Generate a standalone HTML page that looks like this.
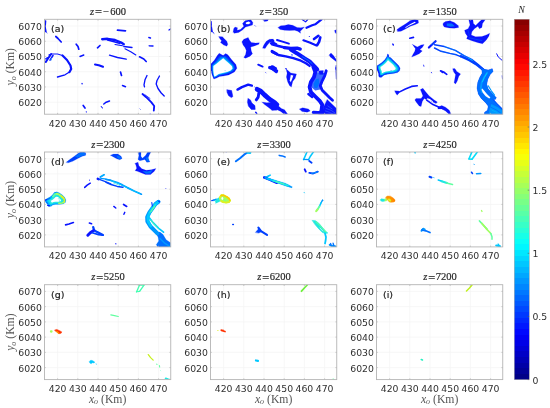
<!DOCTYPE html>
<html><head><meta charset="utf-8"><title>figure</title>
<style>
html,body{margin:0;padding:0;background:#fff;}
body{width:550px;height:408px;overflow:hidden;}
svg{display:block;}
.tk{font-family:"DejaVu Sans","Liberation Sans",sans-serif;font-size:9.3px;fill:#303030;}
.lb{font-family:"DejaVu Sans","Liberation Sans",sans-serif;font-size:9.5px;fill:#262626;stroke:#262626;stroke-width:0.2px;}
.tt{font-family:"Liberation Serif",serif;font-size:10.5px;fill:#2a2a2a;stroke:#2a2a2a;stroke-width:0.2px;}
.ax{font-family:"Liberation Serif",serif;font-size:11.7px;fill:#555;}
</style></head><body>
<svg width="550" height="408" viewBox="0 0 550 408">
<defs>
</defs>
<rect width="550" height="408" fill="#fff"/>
<clipPath id="cp0"><rect x="44.5" y="19.3" width="126.25" height="94.9"/></clipPath>
<rect x="44.5" y="19.3" width="126.25" height="94.9" fill="#fff"/>
<line x1="57.60" y1="19.3" x2="57.60" y2="114.2" stroke="#f3f3f3" stroke-width="0.7"/>
<line x1="44.5" y1="26.00" x2="170.75" y2="26.00" stroke="#f3f3f3" stroke-width="0.7"/>
<line x1="77.80" y1="19.3" x2="77.80" y2="114.2" stroke="#f3f3f3" stroke-width="0.7"/>
<line x1="44.5" y1="41.24" x2="170.75" y2="41.24" stroke="#f3f3f3" stroke-width="0.7"/>
<line x1="98.00" y1="19.3" x2="98.00" y2="114.2" stroke="#f3f3f3" stroke-width="0.7"/>
<line x1="44.5" y1="56.48" x2="170.75" y2="56.48" stroke="#f3f3f3" stroke-width="0.7"/>
<line x1="118.20" y1="19.3" x2="118.20" y2="114.2" stroke="#f3f3f3" stroke-width="0.7"/>
<line x1="44.5" y1="71.72" x2="170.75" y2="71.72" stroke="#f3f3f3" stroke-width="0.7"/>
<line x1="138.40" y1="19.3" x2="138.40" y2="114.2" stroke="#f3f3f3" stroke-width="0.7"/>
<line x1="44.5" y1="86.96" x2="170.75" y2="86.96" stroke="#f3f3f3" stroke-width="0.7"/>
<line x1="158.60" y1="19.3" x2="158.60" y2="114.2" stroke="#f3f3f3" stroke-width="0.7"/>
<line x1="44.5" y1="102.20" x2="170.75" y2="102.20" stroke="#f3f3f3" stroke-width="0.7"/>
<g clip-path="url(#cp0)" stroke-linecap="round" stroke-linejoin="round" fill="none">
<polyline points="45.5,21.0 45.0,27.2 45.8,31.5" stroke="#0a14ff" stroke-width="1.69"/>
<polyline points="45.8,31.5 47.0,33.0" stroke="#0a14ff" stroke-width="0.68"/>
<polyline points="55.8,36.5 58.0,38.5 61.2,42.0" stroke="#0a14ff" stroke-width="1.69"/>
<polyline points="76.2,44.2 78.0,46.5 78.8,49.2" stroke="#0a14ff" stroke-width="1.69"/>
<polyline points="80.0,56.5 83.8,55.0" stroke="#0a14ff" stroke-width="1.35"/>
<polyline points="48.8,55.0 51.2,54.0 57.5,54.0 62.5,55.5" stroke="#0a14ff" stroke-width="1.01"/>
<polyline points="62.5,55.5 67.0,60.0 70.5,65.5 71.2,69.0 69.5,72.0" stroke="#0a14ff" stroke-width="2.19"/>
<polyline points="69.5,72.0 65.0,74.8 57.5,77.0" stroke="#0a14ff" stroke-width="1.35"/>
<polyline points="45.8,62.0 48.0,58.5 51.2,54.0" stroke="#0a14ff" stroke-width="2.03"/>
<polyline points="50.0,60.2 53.0,55.5" stroke="#0a14ff" stroke-width="1.52"/>
<polyline points="45.5,59.0 47.5,57.5" stroke="#0a14ff" stroke-width="1.01"/>
<polyline points="51.0,60.0 51.5,58.5" stroke="#30a0ff" stroke-width="1.01"/>
<polyline points="97.5,47.8 100.0,45.5" stroke="#0a14ff" stroke-width="1.69"/>
<polyline points="102.2,39.2 107.5,38.8 115.0,40.0 121.2,42.5 123.8,44.2" stroke="#0a14ff" stroke-width="2.36"/>
<polyline points="107.5,40.0 115.0,42.0 120.0,43.5" stroke="#0a14ff" stroke-width="1.35"/>
<polyline points="115.0,44.5 122.5,45.8" stroke="#0a14ff" stroke-width="1.01"/>
<polyline points="123.8,46.5 132.0,47.5" stroke="#0a14ff" stroke-width="1.35"/>
<polyline points="117.5,30.2 125.5,30.8" stroke="#0a14ff" stroke-width="1.69"/>
<polyline points="109.5,55.2 117.5,57.5 126.2,59.2" stroke="#0a14ff" stroke-width="1.35"/>
<polyline points="125.0,48.8 131.2,52.0 135.8,55.0" stroke="#0a14ff" stroke-width="1.18"/>
<polyline points="139.5,56.8 143.8,59.0 146.2,61.5" stroke="#0a14ff" stroke-width="1.69"/>
<polyline points="95.0,64.5 98.8,65.2 103.0,66.8" stroke="#0a14ff" stroke-width="2.03"/>
<polyline points="120.5,72.0 121.5,75.5" stroke="#0a14ff" stroke-width="1.69"/>
<polyline points="122.5,85.5 125.5,86.8" stroke="#0a14ff" stroke-width="1.52"/>
<polyline points="82.0,83.5 82.2,83.8" stroke="#0a14ff" stroke-width="1.35"/>
<polyline points="148.8,37.5 150.5,38.0" stroke="#0a14ff" stroke-width="1.35"/>
<polyline points="149.2,45.8 153.0,46.0" stroke="#0a14ff" stroke-width="1.35"/>
<polyline points="169.0,30.0 170.5,29.0" stroke="#0a14ff" stroke-width="1.35"/>
<polyline points="147.0,75.5 145.0,79.8 144.0,84.8 144.5,86.8" stroke="#0a14ff" stroke-width="1.35"/>
<polyline points="159.5,76.0 157.0,80.5 156.2,84.0 158.0,88.5 161.2,93.0 164.2,96.0" stroke="#0a14ff" stroke-width="1.35"/>
<polyline points="142.5,94.0 146.2,97.2 151.2,102.2 154.2,106.0 153.8,110.5" stroke="#0a14ff" stroke-width="1.86"/>
<polyline points="145.0,94.8 150.0,98.5" stroke="#0a14ff" stroke-width="0.84"/>
<polyline points="83.2,105.5 85.0,108.0" stroke="#0a14ff" stroke-width="1.69"/>
<polyline points="86.2,111.8 86.5,112.0" stroke="#0a14ff" stroke-width="1.01"/>
<polyline points="101.2,106.5 102.5,108.0" stroke="#0a14ff" stroke-width="1.01"/>
<polyline points="103.8,104.0 106.2,102.2 109.5,101.0" stroke="#0a14ff" stroke-width="1.52"/>
<polyline points="140.0,109.0 140.2,109.2" stroke="#0a14ff" stroke-width="0.84"/>
<polyline points="150.0,114.2 150.5,114.2" stroke="#0a14ff" stroke-width="0.84"/>
</g>
<rect x="44.5" y="19.3" width="126.25" height="94.9" fill="none" stroke="#b4b4b4" stroke-width="0.9"/>
<line x1="57.60" y1="114.2" x2="57.60" y2="112.9" stroke="#b4b4b4" stroke-width="0.7"/>
<line x1="57.60" y1="19.3" x2="57.60" y2="20.6" stroke="#b4b4b4" stroke-width="0.7"/>
<line x1="44.5" y1="26.00" x2="45.8" y2="26.00" stroke="#b4b4b4" stroke-width="0.7"/>
<line x1="170.75" y1="26.00" x2="169.45" y2="26.00" stroke="#b4b4b4" stroke-width="0.7"/>
<text x="57.60" y="126.50" class="tk" text-anchor="middle">420</text>
<text x="41.90" y="30.00" class="tk" text-anchor="end">6070</text>
<line x1="77.80" y1="114.2" x2="77.80" y2="112.9" stroke="#b4b4b4" stroke-width="0.7"/>
<line x1="77.80" y1="19.3" x2="77.80" y2="20.6" stroke="#b4b4b4" stroke-width="0.7"/>
<line x1="44.5" y1="41.24" x2="45.8" y2="41.24" stroke="#b4b4b4" stroke-width="0.7"/>
<line x1="170.75" y1="41.24" x2="169.45" y2="41.24" stroke="#b4b4b4" stroke-width="0.7"/>
<text x="77.80" y="126.50" class="tk" text-anchor="middle">430</text>
<text x="41.90" y="45.24" class="tk" text-anchor="end">6060</text>
<line x1="98.00" y1="114.2" x2="98.00" y2="112.9" stroke="#b4b4b4" stroke-width="0.7"/>
<line x1="98.00" y1="19.3" x2="98.00" y2="20.6" stroke="#b4b4b4" stroke-width="0.7"/>
<line x1="44.5" y1="56.48" x2="45.8" y2="56.48" stroke="#b4b4b4" stroke-width="0.7"/>
<line x1="170.75" y1="56.48" x2="169.45" y2="56.48" stroke="#b4b4b4" stroke-width="0.7"/>
<text x="98.00" y="126.50" class="tk" text-anchor="middle">440</text>
<text x="41.90" y="60.48" class="tk" text-anchor="end">6050</text>
<line x1="118.20" y1="114.2" x2="118.20" y2="112.9" stroke="#b4b4b4" stroke-width="0.7"/>
<line x1="118.20" y1="19.3" x2="118.20" y2="20.6" stroke="#b4b4b4" stroke-width="0.7"/>
<line x1="44.5" y1="71.72" x2="45.8" y2="71.72" stroke="#b4b4b4" stroke-width="0.7"/>
<line x1="170.75" y1="71.72" x2="169.45" y2="71.72" stroke="#b4b4b4" stroke-width="0.7"/>
<text x="118.20" y="126.50" class="tk" text-anchor="middle">450</text>
<text x="41.90" y="75.72" class="tk" text-anchor="end">6040</text>
<line x1="138.40" y1="114.2" x2="138.40" y2="112.9" stroke="#b4b4b4" stroke-width="0.7"/>
<line x1="138.40" y1="19.3" x2="138.40" y2="20.6" stroke="#b4b4b4" stroke-width="0.7"/>
<line x1="44.5" y1="86.96" x2="45.8" y2="86.96" stroke="#b4b4b4" stroke-width="0.7"/>
<line x1="170.75" y1="86.96" x2="169.45" y2="86.96" stroke="#b4b4b4" stroke-width="0.7"/>
<text x="138.40" y="126.50" class="tk" text-anchor="middle">460</text>
<text x="41.90" y="90.96" class="tk" text-anchor="end">6030</text>
<line x1="158.60" y1="114.2" x2="158.60" y2="112.9" stroke="#b4b4b4" stroke-width="0.7"/>
<line x1="158.60" y1="19.3" x2="158.60" y2="20.6" stroke="#b4b4b4" stroke-width="0.7"/>
<line x1="44.5" y1="102.20" x2="45.8" y2="102.20" stroke="#b4b4b4" stroke-width="0.7"/>
<line x1="170.75" y1="102.20" x2="169.45" y2="102.20" stroke="#b4b4b4" stroke-width="0.7"/>
<text x="158.60" y="126.50" class="tk" text-anchor="middle">470</text>
<text x="41.90" y="106.20" class="tk" text-anchor="end">6020</text>
<text x="51.0" y="32.10" class="lb">(a)</text>
<text x="108.03" y="15.00" class="tt" text-anchor="middle"><tspan font-style="italic">z</tspan><tspan dx="0.9" dy="1.1" font-size="12.4">=</tspan><tspan dx="1.3" dy="-1.1">−</tspan><tspan dx="1.0">600</tspan></text>
<text transform="translate(14.2,66.75) rotate(-90)" class="ax" text-anchor="middle"><tspan font-style="italic">y</tspan><tspan font-style="italic" font-size="8" dy="1.8">o</tspan><tspan dy="-1.8"> (Km)</tspan></text>
<clipPath id="cp1"><rect x="210.5" y="19.3" width="126.25" height="94.9"/></clipPath>
<rect x="210.5" y="19.3" width="126.25" height="94.9" fill="#fff"/>
<line x1="223.60" y1="19.3" x2="223.60" y2="114.2" stroke="#f3f3f3" stroke-width="0.7"/>
<line x1="210.5" y1="26.00" x2="336.75" y2="26.00" stroke="#f3f3f3" stroke-width="0.7"/>
<line x1="243.80" y1="19.3" x2="243.80" y2="114.2" stroke="#f3f3f3" stroke-width="0.7"/>
<line x1="210.5" y1="41.24" x2="336.75" y2="41.24" stroke="#f3f3f3" stroke-width="0.7"/>
<line x1="264.00" y1="19.3" x2="264.00" y2="114.2" stroke="#f3f3f3" stroke-width="0.7"/>
<line x1="210.5" y1="56.48" x2="336.75" y2="56.48" stroke="#f3f3f3" stroke-width="0.7"/>
<line x1="284.20" y1="19.3" x2="284.20" y2="114.2" stroke="#f3f3f3" stroke-width="0.7"/>
<line x1="210.5" y1="71.72" x2="336.75" y2="71.72" stroke="#f3f3f3" stroke-width="0.7"/>
<line x1="304.40" y1="19.3" x2="304.40" y2="114.2" stroke="#f3f3f3" stroke-width="0.7"/>
<line x1="210.5" y1="86.96" x2="336.75" y2="86.96" stroke="#f3f3f3" stroke-width="0.7"/>
<line x1="324.60" y1="19.3" x2="324.60" y2="114.2" stroke="#f3f3f3" stroke-width="0.7"/>
<line x1="210.5" y1="102.20" x2="336.75" y2="102.20" stroke="#f3f3f3" stroke-width="0.7"/>
<g clip-path="url(#cp1)" stroke-linecap="round" stroke-linejoin="round" fill="none">
<polygon points="210.4,64.6 214.3,60.2 217.3,55.6 219.2,53.2 223.2,55.4 225.6,53.6 227.8,54.8 231.7,59.7 235.9,64.6 236.9,68.3 234.4,72.0 228.7,74.9 223.2,76.0 219.5,76.6 216.6,78.1 213.8,79.1 212.1,74.9 210.7,69.5" fill="#0a14ff" stroke="#0a14ff" stroke-width="0.15"/>
<polygon points="211.4,65.1 215.2,61.3 218.1,57.5 220.1,55.4 223.2,56.4 225.1,55.5 226.9,56.7 230.8,61.0 234.5,65.2 235.3,68.4 233.1,71.4 228.2,73.8 223.0,75.0 219.3,75.7 216.3,77.3 214.0,78.2 212.7,74.7 211.6,69.9" fill="#0040ff" stroke="#0040ff" stroke-width="0.06"/>
<polygon points="212.1,65.5 215.8,62.1 218.7,58.7 220.7,56.8 223.2,57.0 224.8,56.8 226.4,57.9 230.2,61.9 233.6,65.5 234.3,68.4 232.3,71.1 227.8,73.1 222.9,74.3 219.1,75.1 216.1,76.8 214.2,77.6 213.1,74.6 212.2,70.1" fill="#0070ff" stroke="#0070ff" stroke-width="0.06"/>
<polygon points="212.7,65.8 216.2,62.7 219.2,59.8 221.1,58.1 223.2,57.6 224.5,57.8 225.9,59.0 229.7,62.6 232.8,65.8 233.4,68.5 231.5,70.7 227.4,72.5 222.8,73.8 218.9,74.7 216.0,76.4 214.3,77.1 213.5,74.5 212.7,70.3" fill="#0098ff" stroke="#0098ff" stroke-width="0.06"/>
<polygon points="213.1,66.0 216.6,63.2 219.5,60.5 221.5,58.9 223.2,58.0 224.3,58.6 225.6,59.8 229.3,63.1 232.3,66.1 232.8,68.5 231.0,70.5 227.2,72.1 222.7,73.4 218.8,74.3 215.9,76.1 214.4,76.8 213.7,74.5 213.1,70.4" fill="#00c8ff" stroke="#00c8ff" stroke-width="0.06"/>
<polygon points="213.4,66.1 216.8,63.4 219.7,61.0 221.7,59.4 223.2,58.2 224.1,59.0 225.4,60.2 229.1,63.4 232.0,66.2 232.5,68.5 230.7,70.4 227.1,71.9 222.7,73.1 218.7,74.1 215.8,75.9 214.4,76.6 213.8,74.4 213.3,70.5" fill="#ffffff" stroke="#ffffff" stroke-width="0.06"/>
<polyline points="225.3,70.7 225.5,70.9" stroke="#0a14ff" stroke-width="0.49"/>
<polyline points="210.8,21.8 211.1,26.8 211.8,31.2" stroke="#0a14ff" stroke-width="1.91"/>
<polyline points="211.8,31.2 214.0,33.3" stroke="#0a14ff" stroke-width="0.95"/>
<polygon points="233.1,32.1 233.7,28.7 235.0,27.0 237.5,27.8 237.1,30.3 240.4,29.5 243.8,26.2 242.5,23.6 245.0,20.8 250.7,19.5 252.9,22.4 252.5,24.9 250.0,25.8 245.6,27.0 242.5,29.9 238.7,32.4 234.3,33.3" fill="#0a14ff" stroke="#0a14ff" stroke-width="0.19"/>
<polygon points="245.9,22.5 248.8,21.5 250.7,23.0 248.4,24.3 245.9,24.0" fill="#ffffff" stroke="#ffffff" stroke-width="0.06"/>
<polyline points="255.1,25.8 255.3,26.0" stroke="#0a14ff" stroke-width="0.95"/>
<polygon points="262.6,19.3 268.5,19.0 267.7,21.0 264.5,21.5" fill="#0a14ff" stroke="#0a14ff" stroke-width="0.19"/>
<polygon points="218.7,36.6 222.4,36.8 224.3,38.7 226.8,41.2 227.8,44.3 226.8,46.2 223.7,45.0 220.5,42.5 221.6,40.8 219.9,38.7" fill="#0a14ff" stroke="#0a14ff" stroke-width="0.19"/>
<polygon points="241.9,41.8 243.8,39.3 248.2,37.4 249.4,40.0 251.3,42.5 255.7,43.1 259.4,42.8 258.8,44.3 254.4,45.9 250.7,47.1 251.3,50.9 252.5,53.8 250.0,56.3 245.6,58.2 243.8,57.5 245.6,54.4 246.3,50.6 245.0,47.5 243.1,45.0" fill="#0a14ff" stroke="#0a14ff" stroke-width="0.19"/>
<polygon points="262.6,48.1 263.8,45.0 266.3,41.2 269.5,39.3 273.5,39.1 273.0,41.2 269.5,42.5 267.0,45.6 265.1,48.4" fill="#0a14ff" stroke="#0a14ff" stroke-width="0.19"/>
<polyline points="270.7,43.3 273.5,42.7 276.4,44.0" stroke="#0a14ff" stroke-width="1.91"/>
<polyline points="272.0,51.2 276.8,54.0" stroke="#0a14ff" stroke-width="2.86"/>
<polyline points="258.2,64.7 262.6,66.6" stroke="#0a14ff" stroke-width="1.91"/>
<polygon points="269.2,66.3 273.2,65.4 276.8,68.2 276.8,69.2 270.7,68.2" fill="#0a14ff" stroke="#0a14ff" stroke-width="0.19"/>
<polyline points="269.5,67.6 276.8,70.8" stroke="#0a14ff" stroke-width="2.86"/>
<polyline points="265.7,72.6 266.0,72.9" stroke="#0a14ff" stroke-width="0.72"/>
<polyline points="237.5,89.6 241.9,87.1 248.2,84.6 251.9,85.6" stroke="#0a14ff" stroke-width="2.38"/>
<polyline points="254.9,87.1 255.2,87.3" stroke="#0a14ff" stroke-width="0.95"/>
<polygon points="227.1,89.8 231.6,90.6 232.8,96.6 231.3,97.6 228.5,95.6 227.1,92.3" fill="#0a14ff" stroke="#0a14ff" stroke-width="0.50"/>
<polyline points="257.2,89.3 260.7,91.1 264.5,94.9 269.5,99.2 274.5,102.4 276.8,104.6" stroke="#0a14ff" stroke-width="4.77"/>
<polygon points="262.0,102.1 267.0,102.8 273.2,102.1 276.8,104.6 276.8,110.3 272.0,110.3 268.2,107.2 264.5,104.6" fill="#0a14ff" stroke="#0a14ff" stroke-width="0.19"/>
<polyline points="258.8,93.3 258.2,97.1 256.3,99.9" stroke="#0a14ff" stroke-width="2.86"/>
<polygon points="248.2,98.6 250.4,99.9 251.9,103.1 254.9,105.6 255.2,109.4 251.3,109.4 248.4,106.1 247.5,102.1" fill="#0a14ff" stroke="#0a14ff" stroke-width="0.50"/>
<polyline points="255.7,112.2 256.7,113.4" stroke="#0a14ff" stroke-width="1.43"/>
<polygon points="278.0,27.4 280.8,25.8 284.5,25.5 288.3,24.5 292.7,25.3 297.1,27.4 300.9,27.8 304.4,27.0 302.1,29.5 300.2,31.2 300.6,33.3 297.7,31.2 294.6,30.3 289.6,30.5 284.5,30.3 280.2,29.5" fill="#0a14ff" stroke="#0a14ff" stroke-width="0.19"/>
<polyline points="302.1,19.5 305.6,21.8 307.8,19.5" stroke="#0a14ff" stroke-width="1.19"/>
<polyline points="306.5,27.8 312.2,25.3 315.3,24.3 321.6,19.3" stroke="#0a14ff" stroke-width="2.15"/>
<polygon points="334.5,30.5 336.6,29.5 336.6,33.7 335.4,33.1" fill="#0a14ff" stroke="#0a14ff" stroke-width="0.19"/>
<polyline points="303.4,40.3 309.6,42.5 316.5,45.4" stroke="#0a14ff" stroke-width="2.15"/>
<polyline points="317.2,45.0 319.1,41.8 320.3,37.4" stroke="#0a14ff" stroke-width="2.62"/>
<polyline points="314.0,39.0 318.4,35.8" stroke="#0a14ff" stroke-width="2.62"/>
<polyline points="309.3,36.4 309.4,36.6" stroke="#0a14ff" stroke-width="0.95"/>
<polyline points="277.0,40.0 283.3,41.8 288.9,43.7" stroke="#0a14ff" stroke-width="1.91"/>
<polyline points="272.0,40.6 273.3,41.2" stroke="#0a14ff" stroke-width="2.38"/>
<polyline points="272.0,44.3 278.3,45.9 284.5,47.4" stroke="#0a14ff" stroke-width="2.62"/>
<polyline points="284.5,47.6 290.8,48.4 297.1,48.1 300.2,49.1" stroke="#0a14ff" stroke-width="3.34"/>
<polyline points="290.8,49.6 297.1,53.4 304.6,58.4 309.6,61.5 314.7,66.6 317.2,69.4" stroke="#0a14ff" stroke-width="4.05"/>
<polyline points="302.1,56.6 308.4,60.4 312.2,63.8" stroke="#0070ff" stroke-width="0.95"/>
<polyline points="272.0,51.9 278.3,55.0 285.8,56.3 293.3,58.2 300.9,60.7 305.9,63.2 309.6,65.9" stroke="#0a14ff" stroke-width="2.38"/>
<polyline points="291.8,54.8 292.1,55.0" stroke="#0a14ff" stroke-width="1.19"/>
<polyline points="272.0,66.3 275.8,68.2" stroke="#0a14ff" stroke-width="1.91"/>
<polyline points="285.8,68.6 286.3,68.9" stroke="#0a14ff" stroke-width="1.19"/>
<polygon points="329.1,55.0 331.0,53.1 333.5,55.6 336.6,60.0 336.6,61.9 333.5,59.4 330.3,56.9" fill="#0a14ff" stroke="#0a14ff" stroke-width="0.19"/>
<polyline points="336.2,65.7 336.0,69.1" stroke="#0a14ff" stroke-width="1.19"/>
<polyline points="272.0,68.3 276.4,71.8" stroke="#0a14ff" stroke-width="2.86"/>
<polygon points="286.1,68.9 288.3,70.8 290.8,73.0 296.5,73.9 295.2,78.3 292.7,81.4 291.4,87.1 289.6,85.8 287.7,82.1 286.4,77.0 287.1,73.3" fill="#0a14ff" stroke="#0a14ff" stroke-width="0.19"/>
<polygon points="290.8,75.0 293.3,75.4 292.1,78.9 290.7,82.3 289.8,80.2" fill="#ffffff" stroke="#ffffff" stroke-width="0.06"/>
<polygon points="315.3,72.0 325.3,73.3 322.2,80.8 320.3,85.8 321.2,89.3 315.3,90.6 311.1,87.1 311.5,82.1 314.0,77.0" fill="#3a6cff" stroke="#3a6cff" stroke-width="0.06"/>
<polygon points="315.7,79.5 318.7,78.5 319.2,83.3 317.2,88.3 314.4,87.8 313.7,83.9" fill="#0070ff" stroke="#0070ff" stroke-width="0.06"/>
<polyline points="313.4,67.0 315.3,72.0 314.0,77.0 310.9,82.1 309.6,87.1 310.9,92.1 315.3,96.5 319.7,100.9 322.2,104.6 321.6,109.7 320.3,114.1" stroke="#0a14ff" stroke-width="3.81"/>
<polyline points="326.2,70.8 324.7,75.8 322.2,80.8 320.3,85.8 322.2,90.2 326.0,94.0 329.7,97.7 332.5,100.2" stroke="#0a14ff" stroke-width="2.86"/>
<polygon points="318.4,70.8 323.4,70.5 323.2,74.5 319.7,74.5" fill="#0a14ff" stroke="#0a14ff" stroke-width="0.19"/>
<polygon points="327.2,99.4 336.6,108.4 336.6,114.4 322.2,114.4 323.4,107.2" fill="#0a14ff" stroke="#0a14ff" stroke-width="0.19"/>
<polyline points="326.0,108.4 331.0,110.3 334.7,112.8" stroke="#5080ff" stroke-width="0.48"/>
<polyline points="325.3,110.9 329.7,112.4 333.5,114.4" stroke="#5080ff" stroke-width="0.48"/>
<polyline points="327.8,105.9 332.2,109.0" stroke="#5080ff" stroke-width="0.48"/>
<polyline points="336.2,67.6 336.6,78.9" stroke="#0a14ff" stroke-width="1.43"/>
<polygon points="272.0,100.2 274.5,101.5 277.6,105.3 281.4,108.4 284.5,109.7 287.7,114.1 284.5,114.4 280.8,111.5 277.0,109.7 272.0,110.3" fill="#0a14ff" stroke="#0a14ff" stroke-width="0.19"/>
<polygon points="299.4,109.0 302.7,107.8 308.4,109.0 310.3,110.9 307.1,112.2 302.1,111.5" fill="#0a14ff" stroke="#0a14ff" stroke-width="0.19"/>
<polyline points="313.4,112.4 322.2,112.9" stroke="#0a14ff" stroke-width="3.34"/>
<polyline points="308.4,94.0 312.2,97.1" stroke="#0a14ff" stroke-width="2.38"/>
</g>
<rect x="210.5" y="19.3" width="126.25" height="94.9" fill="none" stroke="#b4b4b4" stroke-width="0.9"/>
<line x1="223.60" y1="114.2" x2="223.60" y2="112.9" stroke="#b4b4b4" stroke-width="0.7"/>
<line x1="223.60" y1="19.3" x2="223.60" y2="20.6" stroke="#b4b4b4" stroke-width="0.7"/>
<line x1="210.5" y1="26.00" x2="211.8" y2="26.00" stroke="#b4b4b4" stroke-width="0.7"/>
<line x1="336.75" y1="26.00" x2="335.45" y2="26.00" stroke="#b4b4b4" stroke-width="0.7"/>
<text x="223.60" y="126.50" class="tk" text-anchor="middle">420</text>
<text x="207.90" y="30.00" class="tk" text-anchor="end">6070</text>
<line x1="243.80" y1="114.2" x2="243.80" y2="112.9" stroke="#b4b4b4" stroke-width="0.7"/>
<line x1="243.80" y1="19.3" x2="243.80" y2="20.6" stroke="#b4b4b4" stroke-width="0.7"/>
<line x1="210.5" y1="41.24" x2="211.8" y2="41.24" stroke="#b4b4b4" stroke-width="0.7"/>
<line x1="336.75" y1="41.24" x2="335.45" y2="41.24" stroke="#b4b4b4" stroke-width="0.7"/>
<text x="243.80" y="126.50" class="tk" text-anchor="middle">430</text>
<text x="207.90" y="45.24" class="tk" text-anchor="end">6060</text>
<line x1="264.00" y1="114.2" x2="264.00" y2="112.9" stroke="#b4b4b4" stroke-width="0.7"/>
<line x1="264.00" y1="19.3" x2="264.00" y2="20.6" stroke="#b4b4b4" stroke-width="0.7"/>
<line x1="210.5" y1="56.48" x2="211.8" y2="56.48" stroke="#b4b4b4" stroke-width="0.7"/>
<line x1="336.75" y1="56.48" x2="335.45" y2="56.48" stroke="#b4b4b4" stroke-width="0.7"/>
<text x="264.00" y="126.50" class="tk" text-anchor="middle">440</text>
<text x="207.90" y="60.48" class="tk" text-anchor="end">6050</text>
<line x1="284.20" y1="114.2" x2="284.20" y2="112.9" stroke="#b4b4b4" stroke-width="0.7"/>
<line x1="284.20" y1="19.3" x2="284.20" y2="20.6" stroke="#b4b4b4" stroke-width="0.7"/>
<line x1="210.5" y1="71.72" x2="211.8" y2="71.72" stroke="#b4b4b4" stroke-width="0.7"/>
<line x1="336.75" y1="71.72" x2="335.45" y2="71.72" stroke="#b4b4b4" stroke-width="0.7"/>
<text x="284.20" y="126.50" class="tk" text-anchor="middle">450</text>
<text x="207.90" y="75.72" class="tk" text-anchor="end">6040</text>
<line x1="304.40" y1="114.2" x2="304.40" y2="112.9" stroke="#b4b4b4" stroke-width="0.7"/>
<line x1="304.40" y1="19.3" x2="304.40" y2="20.6" stroke="#b4b4b4" stroke-width="0.7"/>
<line x1="210.5" y1="86.96" x2="211.8" y2="86.96" stroke="#b4b4b4" stroke-width="0.7"/>
<line x1="336.75" y1="86.96" x2="335.45" y2="86.96" stroke="#b4b4b4" stroke-width="0.7"/>
<text x="304.40" y="126.50" class="tk" text-anchor="middle">460</text>
<text x="207.90" y="90.96" class="tk" text-anchor="end">6030</text>
<line x1="324.60" y1="114.2" x2="324.60" y2="112.9" stroke="#b4b4b4" stroke-width="0.7"/>
<line x1="324.60" y1="19.3" x2="324.60" y2="20.6" stroke="#b4b4b4" stroke-width="0.7"/>
<line x1="210.5" y1="102.20" x2="211.8" y2="102.20" stroke="#b4b4b4" stroke-width="0.7"/>
<line x1="336.75" y1="102.20" x2="335.45" y2="102.20" stroke="#b4b4b4" stroke-width="0.7"/>
<text x="324.60" y="126.50" class="tk" text-anchor="middle">470</text>
<text x="207.90" y="106.20" class="tk" text-anchor="end">6020</text>
<text x="217.0" y="32.10" class="lb">(b)</text>
<text x="274.02" y="15.00" class="tt" text-anchor="middle"><tspan font-style="italic">z</tspan><tspan dx="0.9" dy="1.1" font-size="12.4">=</tspan><tspan dx="0.6" dy="-1.1">350</tspan></text>
<clipPath id="cp2"><rect x="376.5" y="19.3" width="126.25" height="94.9"/></clipPath>
<rect x="376.5" y="19.3" width="126.25" height="94.9" fill="#fff"/>
<line x1="389.60" y1="19.3" x2="389.60" y2="114.2" stroke="#f3f3f3" stroke-width="0.7"/>
<line x1="376.5" y1="26.00" x2="502.75" y2="26.00" stroke="#f3f3f3" stroke-width="0.7"/>
<line x1="409.80" y1="19.3" x2="409.80" y2="114.2" stroke="#f3f3f3" stroke-width="0.7"/>
<line x1="376.5" y1="41.24" x2="502.75" y2="41.24" stroke="#f3f3f3" stroke-width="0.7"/>
<line x1="430.00" y1="19.3" x2="430.00" y2="114.2" stroke="#f3f3f3" stroke-width="0.7"/>
<line x1="376.5" y1="56.48" x2="502.75" y2="56.48" stroke="#f3f3f3" stroke-width="0.7"/>
<line x1="450.20" y1="19.3" x2="450.20" y2="114.2" stroke="#f3f3f3" stroke-width="0.7"/>
<line x1="376.5" y1="71.72" x2="502.75" y2="71.72" stroke="#f3f3f3" stroke-width="0.7"/>
<line x1="470.40" y1="19.3" x2="470.40" y2="114.2" stroke="#f3f3f3" stroke-width="0.7"/>
<line x1="376.5" y1="86.96" x2="502.75" y2="86.96" stroke="#f3f3f3" stroke-width="0.7"/>
<line x1="490.60" y1="19.3" x2="490.60" y2="114.2" stroke="#f3f3f3" stroke-width="0.7"/>
<line x1="376.5" y1="102.20" x2="502.75" y2="102.20" stroke="#f3f3f3" stroke-width="0.7"/>
<g clip-path="url(#cp2)" stroke-linecap="round" stroke-linejoin="round" fill="none">
<polygon points="376.4,66.1 378.9,64.6 381.8,62.6 384.7,59.7 386.7,56.8 387.7,54.3 388.7,54.8 388.9,57.0 390.6,57.5 393.1,59.9 396.0,62.8 398.7,65.6 400.2,68.3 399.6,70.7 397.7,72.6 393.6,73.6 389.6,73.9 385.7,74.4 383.3,75.6 381.8,77.2 379.8,77.5 378.5,76.0 378.9,73.4 377.7,71.0 376.5,68.7" fill="#0040ff" stroke="#0040ff" stroke-width="0.15"/>
<polygon points="377.3,66.3 379.6,64.9 382.3,63.0 385.0,60.4 386.9,57.7 387.8,55.6 388.6,56.0 388.9,57.9 390.5,58.5 392.7,60.7 395.4,63.3 397.9,65.9 399.3,68.3 398.7,70.4 397.0,72.1 393.2,73.0 389.5,73.3 385.8,73.8 383.4,74.9 382.0,76.3 380.3,76.6 379.2,75.2 379.5,73.0 378.5,70.7 377.4,68.6" fill="#0070ff" stroke="#0070ff" stroke-width="0.06"/>
<polygon points="378.1,66.5 380.2,65.2 382.7,63.4 385.2,60.9 387.0,58.5 387.8,56.7 388.6,57.1 388.9,58.6 390.4,59.3 392.4,61.3 395.0,63.7 397.2,66.1 398.5,68.3 398.0,70.1 396.4,71.6 392.9,72.5 389.4,72.8 385.8,73.3 383.5,74.3 382.1,75.5 380.7,75.8 379.8,74.6 380.0,72.6 379.1,70.6 378.1,68.6" fill="#0098ff" stroke="#0098ff" stroke-width="0.06"/>
<polygon points="378.7,66.6 380.7,65.4 383.0,63.6 385.4,61.3 387.1,59.1 387.9,57.6 388.5,57.9 388.9,59.2 390.3,59.9 392.2,61.8 394.6,64.1 396.7,66.3 397.8,68.3 397.4,69.9 395.9,71.2 392.6,72.0 389.3,72.3 385.9,72.8 383.5,73.8 382.3,74.9 381.0,75.1 380.3,74.1 380.5,72.3 379.6,70.4 378.7,68.5" fill="#00c8ff" stroke="#00c8ff" stroke-width="0.06"/>
<polygon points="379.4,66.8 381.2,65.6 383.4,63.9 385.7,61.8 387.2,59.9 387.9,58.6 388.5,58.9 388.9,59.9 390.2,60.7 391.9,62.4 394.1,64.5 396.0,66.5 397.0,68.3 396.7,69.7 395.3,70.8 392.3,71.5 389.2,71.8 385.9,72.3 383.6,73.2 382.4,74.3 381.4,74.4 380.9,73.5 381.0,71.9 380.2,70.2 379.4,68.4" fill="#20e8e0" stroke="#20e8e0" stroke-width="0.06"/>
<polyline points="377.1,66.8 377.9,70.0 379.1,73.6 379.8,76.4 381.8,75.8" stroke="#0a14ff" stroke-width="1.08"/>
<polyline points="381.8,75.8 384.3,74.4 386.7,73.8" stroke="#0040ff" stroke-width="0.88"/>
<polyline points="387.7,54.3 388.3,56.6" stroke="#0a14ff" stroke-width="0.69"/>
<polygon points="380.5,67.1 382.1,66.1 384.0,64.4 386.0,62.7 387.4,61.1 388.0,60.3 388.4,60.4 388.9,61.1 390.0,61.9 391.5,63.3 393.4,65.1 395.0,66.9 395.8,68.3 395.5,69.3 394.4,70.1 391.8,70.7 389.1,71.0 386.0,71.5 383.8,72.3 382.6,73.1 382.0,73.1 381.8,72.5 381.8,71.4 381.2,69.9 380.5,68.3" fill="#ffffff" stroke="#ffffff" stroke-width="0.05"/>
<polyline points="391.1,70.5 391.3,70.7" stroke="#0a14ff" stroke-width="0.59"/>
<polyline points="394.4,66.1 394.5,66.3" stroke="#00c8ff" stroke-width="0.39"/>
<polyline points="395.3,68.0 395.5,68.2" stroke="#00c8ff" stroke-width="0.39"/>
<polyline points="428.9,47.5 431.8,44.7 435.6,41.2" stroke="#0a14ff" stroke-width="2.18"/>
<polyline points="431.3,44.9 435.1,41.7" stroke="#0070ff" stroke-width="0.87"/>
<polyline points="434.5,44.7 444.4,46.6 455.3,50.4 464.0,55.6 471.6,59.4 478.2,64.6 484.7,70.4 488.0,73.1" stroke="#0040ff" stroke-width="1.53"/>
<polyline points="434.5,48.0 441.1,51.3 449.8,53.4 456.4,54.8 460.7,56.7" stroke="#0040ff" stroke-width="1.42"/>
<polyline points="460.7,56.2 469.4,60.2 476.0,64.1 482.5,69.3 488.0,73.6" stroke="#0040ff" stroke-width="2.40"/>
<polyline points="444.4,46.6 455.3,50.4 464.0,55.6 471.6,59.7" stroke="#0098ff" stroke-width="0.55"/>
<polyline points="468.3,58.0 472.9,60.6" stroke="#00c8ff" stroke-width="0.65"/>
<polyline points="441.1,51.3 449.8,53.4 456.4,54.8" stroke="#0070ff" stroke-width="0.44"/>
<polygon points="397.0,29.5 399.7,27.4 405.4,24.0 410.4,20.5 414.8,19.3 418.2,20.3 418.5,23.0 415.4,24.5 410.4,26.2 405.4,29.0 401.0,31.2 397.6,31.6" fill="#0a14ff" stroke="#0a14ff" stroke-width="0.19"/>
<polygon points="405.4,27.3 410.4,23.9 414.8,21.8 415.8,22.5 412.9,23.9 408.5,26.0 405.6,28.0" fill="#ffffff" stroke="#ffffff" stroke-width="0.06"/>
<polyline points="409.8,38.3 413.5,37.4" stroke="#0a14ff" stroke-width="1.61"/>
<polyline points="392.8,44.1 393.4,45.0" stroke="#0a14ff" stroke-width="1.41"/>
<polygon points="412.3,44.3 415.4,45.9 417.3,46.9 421.1,45.0 424.2,44.6 422.3,47.5 419.8,49.4 422.3,50.9 419.2,53.8 415.4,55.6 411.6,57.1 412.9,54.4 414.8,51.2 415.4,48.7" fill="#0a14ff" stroke="#0a14ff" stroke-width="0.19"/>
<polyline points="423.6,65.1 423.9,66.3" stroke="#0a14ff" stroke-width="0.80"/>
<polyline points="431.5,72.6 431.6,72.8" stroke="#0a14ff" stroke-width="1.00"/>
<polyline points="441.1,71.4 442.8,72.6" stroke="#0a14ff" stroke-width="1.41"/>
<polyline points="397.2,93.3 399.1,92.1 405.4,89.0 411.6,86.4 417.3,85.8" stroke="#0a14ff" stroke-width="1.61"/>
<polygon points="394.7,90.8 399.1,91.1 398.5,93.3 397.2,95.2 395.6,93.1" fill="#0a14ff" stroke="#0a14ff" stroke-width="0.19"/>
<polygon points="420.4,89.6 422.9,88.3 425.4,91.5 429.2,95.9 434.2,99.9 437.4,102.1 436.1,103.6 431.7,101.5 428.0,99.0 426.1,99.6 424.2,98.4 422.3,101.5 421.1,106.5 419.2,105.9 416.7,102.8 414.8,99.9 416.0,98.4 421.1,98.6 422.9,95.9 421.7,92.7" fill="#0a14ff" stroke="#0a14ff" stroke-width="0.19"/>
<polyline points="426.7,100.2 433.0,104.6 439.2,107.2 442.8,108.4" stroke="#0a14ff" stroke-width="1.61"/>
<polygon points="426.9,98.0 429.8,99.1 433.2,101.4 432.7,102.1 430.5,101.1 427.7,99.6" fill="#ffffff" stroke="#ffffff" stroke-width="0.04"/>
<polygon points="443.3,23.0 445.5,21.5 449.9,20.8 454.3,22.4 458.1,25.5 458.7,27.4 454.3,28.3 449.3,28.0 444.3,27.0 443.0,24.9" fill="#0a14ff" stroke="#0a14ff" stroke-width="0.19"/>
<polygon points="446.8,23.6 451.8,23.6 454.9,26.2 450.5,26.8 446.8,25.8" fill="#0070ff" stroke="#0070ff" stroke-width="0.06"/>
<polygon points="464.6,30.3 468.1,28.7 470.0,24.9 468.7,19.5 472.9,19.5 473.4,23.6 475.6,25.5 479.4,21.8 481.9,19.5 485.4,19.5 482.5,23.6 481.9,27.4 479.4,28.7 477.9,26.2 474.4,28.7 471.9,31.8 471.2,34.9 475.6,36.8 481.9,36.6 486.3,34.9 489.7,33.3 488.8,36.2 486.3,40.0 482.5,43.7 478.2,42.8 471.9,40.8 466.6,38.7 467.5,36.2 465.6,33.7" fill="#0a14ff" stroke="#0a14ff" stroke-width="0.19"/>
<polyline points="469.4,37.8 475.6,39.3 481.9,40.6" stroke="#0070ff" stroke-width="0.50"/>
<polyline points="468.1,30.5 469.4,35.6" stroke="#0070ff" stroke-width="0.40"/>
<polyline points="496.7,53.8 498.2,56.9 502.2,60.4" stroke="#0a14ff" stroke-width="1.00"/>
<polyline points="453.1,68.6 453.3,68.7" stroke="#0a14ff" stroke-width="0.60"/>
<polyline points="492.0,68.8 492.2,68.9" stroke="#0a14ff" stroke-width="0.60"/>
<polyline points="440.5,70.8 443.6,72.0 446.8,74.3" stroke="#0a14ff" stroke-width="1.61"/>
<polygon points="452.8,68.9 454.9,68.5 456.8,71.4 460.6,73.9 458.7,76.4 457.4,80.8 455.6,83.9 454.1,82.7 454.9,78.3 455.6,74.5 453.7,72.0" fill="#0a14ff" stroke="#0a14ff" stroke-width="0.19"/>
<polygon points="479.4,67.0 483.8,69.3 488.2,70.1 492.2,68.9 493.0,71.4 490.1,74.5 487.6,79.5 486.7,84.6 488.2,89.0 492.0,93.3 496.3,97.7 495.1,99.6 493.2,99.0 497.0,103.4 502.6,109.0 502.6,114.4 484.4,114.4 484.7,112.2 487.6,110.3 488.2,105.9 485.7,102.8 481.3,98.4 478.4,94.0 477.1,88.3 477.9,82.1 480.0,77.0 482.2,73.3 481.9,70.1" fill="#0040ff" stroke="#0040ff" stroke-width="0.38"/>
<polygon points="479.4,67.0 483.8,69.3 488.2,70.1 492.2,68.9 493.0,71.4 490.1,74.5 487.6,79.5 486.7,84.6 488.2,89.0 492.0,93.3 496.3,97.7 495.1,99.6 493.2,99.0 497.0,103.4 502.6,109.0 502.6,114.4 484.4,114.4 484.7,112.2 487.6,110.3 488.2,105.9 485.7,102.8 481.3,98.4 478.4,94.0 477.1,88.3 477.9,82.1 480.0,77.0 482.2,73.3 481.9,70.1" fill="#0070ff" stroke="#0070ff" stroke-width="0.00"/>
<polyline points="487.2,72.6 484.2,77.3 481.7,82.7 480.9,87.7 481.9,92.1" stroke="#0098ff" stroke-width="1.81"/>
<polyline points="486.7,73.5 484.2,77.7 482.4,81.8" stroke="#00c8ff" stroke-width="1.00"/>
<polyline points="488.2,85.8 491.3,90.8 494.5,95.2" stroke="#0098ff" stroke-width="1.20"/>
<polygon points="482.2,88.6 483.8,90.2 486.9,94.0 490.4,97.5 489.2,98.6 485.7,96.2 482.8,92.7 481.5,89.8" fill="#ffffff" stroke="#ffffff" stroke-width="0.06"/>
<polygon points="491.3,104.0 498.2,107.4 502.6,110.7 502.6,114.4 488.8,114.4 489.4,109.7" fill="#0098ff" stroke="#0098ff" stroke-width="0.06"/>
<polyline points="493.2,99.9 502.6,109.4" stroke="#0040ff" stroke-width="0.60"/>
<polyline points="490.7,107.2 497.0,110.3 501.4,113.7" stroke="#0040ff" stroke-width="0.40"/>
<polyline points="492.0,110.3 497.0,112.4" stroke="#00c8ff" stroke-width="0.50"/>
<polyline points="502.2,75.8 502.5,78.9" stroke="#0a14ff" stroke-width="0.80"/>
<polygon points="438.0,106.9 441.8,105.6 445.5,107.2 449.3,110.3 451.2,114.4 449.3,114.4 445.5,110.9 441.8,109.0 438.0,109.0" fill="#0a14ff" stroke="#0a14ff" stroke-width="0.19"/>
</g>
<rect x="376.5" y="19.3" width="126.25" height="94.9" fill="none" stroke="#b4b4b4" stroke-width="0.9"/>
<line x1="389.60" y1="114.2" x2="389.60" y2="112.9" stroke="#b4b4b4" stroke-width="0.7"/>
<line x1="389.60" y1="19.3" x2="389.60" y2="20.6" stroke="#b4b4b4" stroke-width="0.7"/>
<line x1="376.5" y1="26.00" x2="377.8" y2="26.00" stroke="#b4b4b4" stroke-width="0.7"/>
<line x1="502.75" y1="26.00" x2="501.45" y2="26.00" stroke="#b4b4b4" stroke-width="0.7"/>
<text x="389.60" y="126.50" class="tk" text-anchor="middle">420</text>
<text x="373.90" y="30.00" class="tk" text-anchor="end">6070</text>
<line x1="409.80" y1="114.2" x2="409.80" y2="112.9" stroke="#b4b4b4" stroke-width="0.7"/>
<line x1="409.80" y1="19.3" x2="409.80" y2="20.6" stroke="#b4b4b4" stroke-width="0.7"/>
<line x1="376.5" y1="41.24" x2="377.8" y2="41.24" stroke="#b4b4b4" stroke-width="0.7"/>
<line x1="502.75" y1="41.24" x2="501.45" y2="41.24" stroke="#b4b4b4" stroke-width="0.7"/>
<text x="409.80" y="126.50" class="tk" text-anchor="middle">430</text>
<text x="373.90" y="45.24" class="tk" text-anchor="end">6060</text>
<line x1="430.00" y1="114.2" x2="430.00" y2="112.9" stroke="#b4b4b4" stroke-width="0.7"/>
<line x1="430.00" y1="19.3" x2="430.00" y2="20.6" stroke="#b4b4b4" stroke-width="0.7"/>
<line x1="376.5" y1="56.48" x2="377.8" y2="56.48" stroke="#b4b4b4" stroke-width="0.7"/>
<line x1="502.75" y1="56.48" x2="501.45" y2="56.48" stroke="#b4b4b4" stroke-width="0.7"/>
<text x="430.00" y="126.50" class="tk" text-anchor="middle">440</text>
<text x="373.90" y="60.48" class="tk" text-anchor="end">6050</text>
<line x1="450.20" y1="114.2" x2="450.20" y2="112.9" stroke="#b4b4b4" stroke-width="0.7"/>
<line x1="450.20" y1="19.3" x2="450.20" y2="20.6" stroke="#b4b4b4" stroke-width="0.7"/>
<line x1="376.5" y1="71.72" x2="377.8" y2="71.72" stroke="#b4b4b4" stroke-width="0.7"/>
<line x1="502.75" y1="71.72" x2="501.45" y2="71.72" stroke="#b4b4b4" stroke-width="0.7"/>
<text x="450.20" y="126.50" class="tk" text-anchor="middle">450</text>
<text x="373.90" y="75.72" class="tk" text-anchor="end">6040</text>
<line x1="470.40" y1="114.2" x2="470.40" y2="112.9" stroke="#b4b4b4" stroke-width="0.7"/>
<line x1="470.40" y1="19.3" x2="470.40" y2="20.6" stroke="#b4b4b4" stroke-width="0.7"/>
<line x1="376.5" y1="86.96" x2="377.8" y2="86.96" stroke="#b4b4b4" stroke-width="0.7"/>
<line x1="502.75" y1="86.96" x2="501.45" y2="86.96" stroke="#b4b4b4" stroke-width="0.7"/>
<text x="470.40" y="126.50" class="tk" text-anchor="middle">460</text>
<text x="373.90" y="90.96" class="tk" text-anchor="end">6030</text>
<line x1="490.60" y1="114.2" x2="490.60" y2="112.9" stroke="#b4b4b4" stroke-width="0.7"/>
<line x1="490.60" y1="19.3" x2="490.60" y2="20.6" stroke="#b4b4b4" stroke-width="0.7"/>
<line x1="376.5" y1="102.20" x2="377.8" y2="102.20" stroke="#b4b4b4" stroke-width="0.7"/>
<line x1="502.75" y1="102.20" x2="501.45" y2="102.20" stroke="#b4b4b4" stroke-width="0.7"/>
<text x="490.60" y="126.50" class="tk" text-anchor="middle">470</text>
<text x="373.90" y="106.20" class="tk" text-anchor="end">6020</text>
<text x="383.0" y="32.10" class="lb">(c)</text>
<text x="440.02" y="15.00" class="tt" text-anchor="middle"><tspan font-style="italic">z</tspan><tspan dx="0.9" dy="1.1" font-size="12.4">=</tspan><tspan dx="0.6" dy="-1.1">1350</tspan></text>
<clipPath id="cp3"><rect x="44.5" y="152.0" width="126.25" height="94.9"/></clipPath>
<rect x="44.5" y="152.0" width="126.25" height="94.9" fill="#fff"/>
<line x1="57.60" y1="152.0" x2="57.60" y2="246.9" stroke="#f3f3f3" stroke-width="0.7"/>
<line x1="44.5" y1="158.70" x2="170.75" y2="158.70" stroke="#f3f3f3" stroke-width="0.7"/>
<line x1="77.80" y1="152.0" x2="77.80" y2="246.9" stroke="#f3f3f3" stroke-width="0.7"/>
<line x1="44.5" y1="173.94" x2="170.75" y2="173.94" stroke="#f3f3f3" stroke-width="0.7"/>
<line x1="98.00" y1="152.0" x2="98.00" y2="246.9" stroke="#f3f3f3" stroke-width="0.7"/>
<line x1="44.5" y1="189.18" x2="170.75" y2="189.18" stroke="#f3f3f3" stroke-width="0.7"/>
<line x1="118.20" y1="152.0" x2="118.20" y2="246.9" stroke="#f3f3f3" stroke-width="0.7"/>
<line x1="44.5" y1="204.42" x2="170.75" y2="204.42" stroke="#f3f3f3" stroke-width="0.7"/>
<line x1="138.40" y1="152.0" x2="138.40" y2="246.9" stroke="#f3f3f3" stroke-width="0.7"/>
<line x1="44.5" y1="219.66" x2="170.75" y2="219.66" stroke="#f3f3f3" stroke-width="0.7"/>
<line x1="158.60" y1="152.0" x2="158.60" y2="246.9" stroke="#f3f3f3" stroke-width="0.7"/>
<line x1="44.5" y1="234.90" x2="170.75" y2="234.90" stroke="#f3f3f3" stroke-width="0.7"/>
<g clip-path="url(#cp3)" stroke-linecap="round" stroke-linejoin="round" fill="none">
<polygon points="44.5,200.1 46.9,198.6 49.8,196.9 52.3,194.9 54.3,192.3 56.7,191.8 59.2,192.7 62.1,194.7 64.7,197.2 66.0,200.1 65.5,202.5 63.1,204.0 59.2,204.5 55.7,204.5 52.8,205.0 51.3,206.3 48.9,206.7 47.4,205.7 47.4,204.3 45.7,202.4" fill="#0098ff" stroke="#0098ff" stroke-width="0.15"/>
<polygon points="46.3,200.3 48.3,199.2 50.7,197.7 52.8,196.0 54.7,193.7 56.7,193.2 58.8,194.0 61.3,195.7 63.5,197.8 64.6,200.2 64.1,202.1 62.1,203.3 58.8,203.7 55.7,203.7 53.0,204.1 51.7,205.1 49.7,205.4 48.6,204.6 48.6,203.6 47.3,202.0" fill="#00c8ff" stroke="#00c8ff" stroke-width="0.06"/>
<polygon points="48.2,200.5 49.6,199.7 51.5,198.6 53.4,197.1 55.1,195.2 56.7,194.7 58.4,195.4 60.4,196.7 62.3,198.5 63.1,200.3 62.7,201.7 61.1,202.5 58.4,202.9 55.7,202.9 53.2,203.2 52.1,204.0 50.6,204.2 49.8,203.6 49.8,202.9 48.8,201.7" fill="#20e8e0" stroke="#20e8e0" stroke-width="0.06"/>
<polyline points="53.0,196.5 54.9,194.2 56.9,193.7" stroke="#60ffa0" stroke-width="1.96"/>
<polyline points="56.9,193.7 58.9,194.4 61.2,196.1 63.4,198.1" stroke="#a0ff60" stroke-width="2.06"/>
<polyline points="61.6,196.3 63.6,198.2 64.5,200.2 64.1,202.0" stroke="#e0f020" stroke-width="1.76"/>
<polyline points="64.0,202.2 62.1,203.0 58.9,203.4" stroke="#a0ff60" stroke-width="1.57"/>
<polyline points="44.9,200.2 47.4,199.5" stroke="#0a14ff" stroke-width="1.18"/>
<polyline points="47.4,199.5 50.0,198.2" stroke="#0070ff" stroke-width="1.18"/>
<polyline points="47.7,205.5 49.3,205.7" stroke="#0a14ff" stroke-width="1.18"/>
<polyline points="46.6,202.2 47.9,204.3" stroke="#0070ff" stroke-width="0.98"/>
<polygon points="50.7,200.7 51.4,200.4 52.6,199.8 54.1,198.6 55.6,197.1 56.8,196.7 57.9,197.1 59.3,198.1 60.6,199.4 61.1,200.4 60.8,201.1 59.8,201.5 57.9,201.8 55.6,201.8 53.5,202.1 52.6,202.4 51.8,202.5 51.4,202.2 51.4,201.9 50.9,201.3" fill="#ffffff" stroke="#ffffff" stroke-width="0.05"/>
<polyline points="58.2,198.4 60.6,198.6" stroke="#20e8e0" stroke-width="0.39"/>
<polyline points="59.2,199.6 59.6,201.8" stroke="#20e8e0" stroke-width="0.49"/>
<polyline points="61.1,200.1 61.6,201.6" stroke="#20e8e0" stroke-width="0.39"/>
<polygon points="66.1,162.3 69.0,160.0 74.0,156.5 79.0,152.8 82.2,151.5 85.7,152.8 85.7,155.3 82.2,156.3 77.8,158.5 72.7,161.3 68.3,162.8" fill="#0040ff" stroke="#0040ff" stroke-width="0.19"/>
<polygon points="74.9,156.5 79.6,153.0 82.2,151.9 85.2,153.0 85.2,155.0 81.9,155.9 77.8,157.8" fill="#0070ff" stroke="#0070ff" stroke-width="0.06"/>
<polyline points="58.3,151.9 58.4,152.0" stroke="#0a14ff" stroke-width="0.75"/>
<polyline points="84.7,187.4 87.2,185.1 90.3,183.2" stroke="#0a14ff" stroke-width="1.51"/>
<polyline points="89.4,180.1 89.6,180.2" stroke="#0a14ff" stroke-width="1.00"/>
<polyline points="97.8,178.9 98.5,179.1" stroke="#0a14ff" stroke-width="2.51"/>
<polyline points="100.3,177.0 104.1,174.8" stroke="#0098ff" stroke-width="1.76"/>
<polyline points="101.0,176.6 104.1,174.8" stroke="#00c8ff" stroke-width="0.75"/>
<polyline points="98.7,179.2 104.7,181.4 110.8,183.9" stroke="#0040ff" stroke-width="1.25"/>
<polyline points="100.7,178.4 104.7,178.9 110.8,180.1" stroke="#0098ff" stroke-width="1.25"/>
<polyline points="65.6,224.9 69.0,224.0 73.4,222.5" stroke="#0a14ff" stroke-width="1.63"/>
<polyline points="89.4,223.0 91.6,223.7" stroke="#0a14ff" stroke-width="1.63"/>
<polyline points="93.2,227.1 94.1,230.2 97.2,232.1 102.9,234.9" stroke="#0040ff" stroke-width="2.28"/>
<polyline points="87.8,235.3 90.3,232.8 93.4,230.6" stroke="#0a14ff" stroke-width="2.94"/>
<polyline points="92.2,232.8 98.5,234.6 102.9,235.3" stroke="#0040ff" stroke-width="1.63"/>
<polyline points="106.0,182.4 111.0,184.5 117.3,186.4 122.9,187.3" stroke="#0040ff" stroke-width="1.51"/>
<polyline points="106.0,179.5 111.0,180.5 117.3,182.6 122.3,184.9 127.3,187.6 133.6,190.8 138.6,193.0 141.4,194.2" stroke="#0098ff" stroke-width="1.76"/>
<polyline points="111.0,180.7 117.3,182.9 122.3,185.4 128.6,188.3 134.9,191.4 139.9,193.5" stroke="#00c8ff" stroke-width="1.00"/>
<polyline points="113.5,182.9 119.8,185.5" stroke="#20e8e0" stroke-width="0.63"/>
<polygon points="110.4,155.3 113.5,154.0 117.9,154.0 121.1,156.3 122.1,158.5 119.8,159.8 116.7,158.8 113.5,156.9" fill="#0040ff" stroke="#0040ff" stroke-width="0.19"/>
<polygon points="116.7,155.6 120.4,156.5 121.3,158.5 119.2,159.0 117.0,157.5" fill="#0070ff" stroke="#0070ff" stroke-width="0.06"/>
<polygon points="138.0,151.5 141.1,151.5 140.9,156.3 142.4,158.2 145.5,155.6 148.0,151.5 151.2,151.5 149.3,155.0 148.0,158.2 149.9,161.9 146.8,162.3 144.9,159.4 143.0,160.0 139.9,160.7 138.0,159.4 138.9,155.6" fill="#0040ff" stroke="#0040ff" stroke-width="0.19"/>
<polygon points="145.9,157.8 148.0,156.9 149.3,161.5 146.8,161.5" fill="#0070ff" stroke="#0070ff" stroke-width="0.06"/>
<polygon points="135.1,163.2 138.0,162.3 138.9,165.7 141.8,168.8 146.2,170.3 151.2,169.8 155.9,168.6 154.3,171.3 150.5,174.5 145.5,174.5 141.1,172.8 137.4,171.3 135.1,170.7 136.7,168.2 136.1,165.7" fill="#0a14ff" stroke="#0a14ff" stroke-width="0.19"/>
<polygon points="142.4,171.1 147.4,171.6 152.7,170.1 150.5,173.6 145.9,173.8" fill="#0070ff" stroke="#0070ff" stroke-width="0.06"/>
<polyline points="165.6,188.3 165.7,188.4" stroke="#0a14ff" stroke-width="0.79"/>
<polyline points="157.4,200.8 158.1,200.9" stroke="#0070ff" stroke-width="1.05"/>
<polyline points="113.8,206.4 115.8,208.0" stroke="#0a14ff" stroke-width="1.44"/>
<polyline points="123.6,204.5 126.7,206.4" stroke="#0a14ff" stroke-width="1.73"/>
<polyline points="124.8,212.3 123.9,214.3" stroke="#0a14ff" stroke-width="1.44"/>
<polyline points="115.8,243.7 115.9,243.8" stroke="#0a14ff" stroke-width="1.15"/>
<polygon points="155.6,232.8 160.0,232.1 163.1,234.6 166.2,239.7 170.6,242.8 170.6,248.2 158.7,248.2 156.2,244.7 158.7,240.9 158.1,237.2" fill="#0070ff" stroke="#0070ff" stroke-width="0.19"/>
<polyline points="158.4,201.8 155.6,203.9 152.4,208.3 149.3,212.7 147.2,217.1 147.4,221.5 150.5,226.5 154.9,230.9 157.4,233.4" stroke="#0098ff" stroke-width="4.04"/>
<polyline points="157.7,202.3 155.2,204.3 152.4,208.3 149.5,212.7 147.8,217.1 148.2,221.5 150.9,226.1" stroke="#00c8ff" stroke-width="2.60"/>
<polyline points="155.6,204.5 152.7,208.5 149.9,212.7" stroke="#20e8e0" stroke-width="1.44"/>
<polyline points="154.7,206.4 150.9,211.8" stroke="#60ffa0" stroke-width="1.01"/>
<polyline points="149.3,217.7 153.1,222.7 158.7,228.4 163.5,232.1" stroke="#00c8ff" stroke-width="1.73"/>
<polyline points="150.2,219.3 154.3,224.4 159.3,229.0" stroke="#20e8e0" stroke-width="1.01"/>
<polyline points="151.2,220.8 156.2,226.5" stroke="#60ffa0" stroke-width="0.72"/>
<polyline points="151.8,202.6 152.4,206.0" stroke="#0040ff" stroke-width="1.15"/>
<polyline points="158.7,201.4 159.7,201.8" stroke="#0040ff" stroke-width="1.15"/>
<polyline points="160.0,238.4 165.0,243.4 170.0,246.6" stroke="#0098ff" stroke-width="1.44"/>
<polyline points="158.1,245.9 161.2,247.8" stroke="#0040ff" stroke-width="0.87"/>
</g>
<rect x="44.5" y="152.0" width="126.25" height="94.9" fill="none" stroke="#b4b4b4" stroke-width="0.9"/>
<line x1="57.60" y1="246.9" x2="57.60" y2="245.6" stroke="#b4b4b4" stroke-width="0.7"/>
<line x1="57.60" y1="152.0" x2="57.60" y2="153.3" stroke="#b4b4b4" stroke-width="0.7"/>
<line x1="44.5" y1="158.70" x2="45.8" y2="158.70" stroke="#b4b4b4" stroke-width="0.7"/>
<line x1="170.75" y1="158.70" x2="169.45" y2="158.70" stroke="#b4b4b4" stroke-width="0.7"/>
<text x="57.60" y="259.20" class="tk" text-anchor="middle">420</text>
<text x="41.90" y="162.70" class="tk" text-anchor="end">6070</text>
<line x1="77.80" y1="246.9" x2="77.80" y2="245.6" stroke="#b4b4b4" stroke-width="0.7"/>
<line x1="77.80" y1="152.0" x2="77.80" y2="153.3" stroke="#b4b4b4" stroke-width="0.7"/>
<line x1="44.5" y1="173.94" x2="45.8" y2="173.94" stroke="#b4b4b4" stroke-width="0.7"/>
<line x1="170.75" y1="173.94" x2="169.45" y2="173.94" stroke="#b4b4b4" stroke-width="0.7"/>
<text x="77.80" y="259.20" class="tk" text-anchor="middle">430</text>
<text x="41.90" y="177.94" class="tk" text-anchor="end">6060</text>
<line x1="98.00" y1="246.9" x2="98.00" y2="245.6" stroke="#b4b4b4" stroke-width="0.7"/>
<line x1="98.00" y1="152.0" x2="98.00" y2="153.3" stroke="#b4b4b4" stroke-width="0.7"/>
<line x1="44.5" y1="189.18" x2="45.8" y2="189.18" stroke="#b4b4b4" stroke-width="0.7"/>
<line x1="170.75" y1="189.18" x2="169.45" y2="189.18" stroke="#b4b4b4" stroke-width="0.7"/>
<text x="98.00" y="259.20" class="tk" text-anchor="middle">440</text>
<text x="41.90" y="193.18" class="tk" text-anchor="end">6050</text>
<line x1="118.20" y1="246.9" x2="118.20" y2="245.6" stroke="#b4b4b4" stroke-width="0.7"/>
<line x1="118.20" y1="152.0" x2="118.20" y2="153.3" stroke="#b4b4b4" stroke-width="0.7"/>
<line x1="44.5" y1="204.42" x2="45.8" y2="204.42" stroke="#b4b4b4" stroke-width="0.7"/>
<line x1="170.75" y1="204.42" x2="169.45" y2="204.42" stroke="#b4b4b4" stroke-width="0.7"/>
<text x="118.20" y="259.20" class="tk" text-anchor="middle">450</text>
<text x="41.90" y="208.42" class="tk" text-anchor="end">6040</text>
<line x1="138.40" y1="246.9" x2="138.40" y2="245.6" stroke="#b4b4b4" stroke-width="0.7"/>
<line x1="138.40" y1="152.0" x2="138.40" y2="153.3" stroke="#b4b4b4" stroke-width="0.7"/>
<line x1="44.5" y1="219.66" x2="45.8" y2="219.66" stroke="#b4b4b4" stroke-width="0.7"/>
<line x1="170.75" y1="219.66" x2="169.45" y2="219.66" stroke="#b4b4b4" stroke-width="0.7"/>
<text x="138.40" y="259.20" class="tk" text-anchor="middle">460</text>
<text x="41.90" y="223.66" class="tk" text-anchor="end">6030</text>
<line x1="158.60" y1="246.9" x2="158.60" y2="245.6" stroke="#b4b4b4" stroke-width="0.7"/>
<line x1="158.60" y1="152.0" x2="158.60" y2="153.3" stroke="#b4b4b4" stroke-width="0.7"/>
<line x1="44.5" y1="234.90" x2="45.8" y2="234.90" stroke="#b4b4b4" stroke-width="0.7"/>
<line x1="170.75" y1="234.90" x2="169.45" y2="234.90" stroke="#b4b4b4" stroke-width="0.7"/>
<text x="158.60" y="259.20" class="tk" text-anchor="middle">470</text>
<text x="41.90" y="238.90" class="tk" text-anchor="end">6020</text>
<text x="51.0" y="164.80" class="lb">(d)</text>
<text x="108.03" y="147.70" class="tt" text-anchor="middle"><tspan font-style="italic">z</tspan><tspan dx="0.9" dy="1.1" font-size="12.4">=</tspan><tspan dx="0.6" dy="-1.1">2300</tspan></text>
<text transform="translate(14.2,199.45) rotate(-90)" class="ax" text-anchor="middle"><tspan font-style="italic">y</tspan><tspan font-style="italic" font-size="8" dy="1.8">o</tspan><tspan dy="-1.8"> (Km)</tspan></text>
<clipPath id="cp4"><rect x="210.5" y="152.0" width="126.25" height="94.9"/></clipPath>
<rect x="210.5" y="152.0" width="126.25" height="94.9" fill="#fff"/>
<line x1="223.60" y1="152.0" x2="223.60" y2="246.9" stroke="#f3f3f3" stroke-width="0.7"/>
<line x1="210.5" y1="158.70" x2="336.75" y2="158.70" stroke="#f3f3f3" stroke-width="0.7"/>
<line x1="243.80" y1="152.0" x2="243.80" y2="246.9" stroke="#f3f3f3" stroke-width="0.7"/>
<line x1="210.5" y1="173.94" x2="336.75" y2="173.94" stroke="#f3f3f3" stroke-width="0.7"/>
<line x1="264.00" y1="152.0" x2="264.00" y2="246.9" stroke="#f3f3f3" stroke-width="0.7"/>
<line x1="210.5" y1="189.18" x2="336.75" y2="189.18" stroke="#f3f3f3" stroke-width="0.7"/>
<line x1="284.20" y1="152.0" x2="284.20" y2="246.9" stroke="#f3f3f3" stroke-width="0.7"/>
<line x1="210.5" y1="204.42" x2="336.75" y2="204.42" stroke="#f3f3f3" stroke-width="0.7"/>
<line x1="304.40" y1="152.0" x2="304.40" y2="246.9" stroke="#f3f3f3" stroke-width="0.7"/>
<line x1="210.5" y1="219.66" x2="336.75" y2="219.66" stroke="#f3f3f3" stroke-width="0.7"/>
<line x1="324.60" y1="152.0" x2="324.60" y2="246.9" stroke="#f3f3f3" stroke-width="0.7"/>
<line x1="210.5" y1="234.90" x2="336.75" y2="234.90" stroke="#f3f3f3" stroke-width="0.7"/>
<g clip-path="url(#cp4)" stroke-linecap="round" stroke-linejoin="round" fill="none">
<polyline points="322.5,200.1 321.2,202.6" stroke="#0098ff" stroke-width="1.25"/>
<polyline points="321.2,202.6 319.4,206.4" stroke="#00c8ff" stroke-width="1.50"/>
<polyline points="319.4,206.4 317.5,209.5" stroke="#60ffa0" stroke-width="1.88"/>
<polyline points="317.5,209.5 316.2,211.1" stroke="#a0ff60" stroke-width="2.12"/>
<polygon points="312.5,220.5 315.6,220.8 318.8,223.2 322.5,227.6 325.6,231.4 327.8,233.0 325.6,233.5 322.5,232.6 318.8,228.9 315.0,224.5" fill="#20e8e0" stroke="#20e8e0" stroke-width="0.62"/>
<polyline points="316.0,221.8 319.4,224.8 323.1,229.0 326.0,232.0" stroke="#60ffa0" stroke-width="1.12"/>
<polyline points="320.0,228.0 322.8,231.0" stroke="#ffffff" stroke-width="0.62"/>
<polyline points="325.0,233.5 326.0,237.0 325.6,240.8 325.0,243.5" stroke="#00c8ff" stroke-width="1.75"/>
<polyline points="329.8,244.8 331.9,245.8 335.6,246.6" stroke="#0098ff" stroke-width="2.00"/>
<polyline points="330.6,243.5 331.2,245.8" stroke="#0070ff" stroke-width="1.25"/>
<polyline points="333.1,243.2 334.0,246.0" stroke="#0070ff" stroke-width="1.25"/>
<polyline points="211.7,200.6 213.9,200.2" stroke="#0040ff" stroke-width="1.17"/>
<polyline points="213.7,200.3 216.3,199.3" stroke="#0098ff" stroke-width="1.67"/>
<polygon points="214.9,201.1 217.3,198.6 219.3,197.2 220.7,199.1 220.7,201.1 218.8,202.1 216.8,203.0 215.4,203.5 215.6,202.1" fill="#20e8e0" stroke="#20e8e0" stroke-width="0.15"/>
<polygon points="219.8,197.6 221.2,195.2 223.7,195.2 226.6,196.7 229.1,198.6 230.1,200.6 229.1,202.1 226.1,202.5 223.2,202.1 221.2,201.1 219.8,199.6 219.8,197.6" fill="#a0ff60" stroke="#a0ff60" stroke-width="1.27"/>
<polyline points="219.8,197.6 221.2,195.2 223.7,195.2 226.6,196.7 229.1,198.6 230.1,200.6 229.1,202.1 226.1,202.5 223.2,202.1 221.2,201.1" stroke="#e0f020" stroke-width="1.83"/>
<polyline points="221.2,195.5 223.7,195.3 226.6,196.9 229.0,198.6 229.8,200.4" stroke="#ffc800" stroke-width="1.33"/>
<polygon points="221.5,197.4 222.9,197.1 223.4,199.1 222.3,200.0 221.3,199.1" fill="#ffffff" stroke="#ffffff" stroke-width="0.05"/>
<polyline points="224.5,199.6 225.2,200.8" stroke="#60ffa0" stroke-width="0.67"/>
<polyline points="235.9,161.3 240.0,158.2 244.4,154.4 247.5,152.5" stroke="#0070ff" stroke-width="1.96"/>
<polyline points="247.5,152.5 250.0,152.8" stroke="#00c8ff" stroke-width="2.61"/>
<polyline points="225.6,151.9 225.7,152.0" stroke="#0a14ff" stroke-width="0.98"/>
<polyline points="264.2,177.4 270.7,180.1 276.8,182.9" stroke="#0a14ff" stroke-width="2.28"/>
<polyline points="265.7,177.0 270.1,175.3" stroke="#00c8ff" stroke-width="1.30"/>
<polyline points="279.2,155.4 282.3,155.9 285.1,157.0" stroke="#0070ff" stroke-width="1.55"/>
<polyline points="307.0,151.9 305.1,156.2 303.6,159.6" stroke="#00c8ff" stroke-width="1.55"/>
<polyline points="313.5,151.9 310.4,156.2 308.6,159.6" stroke="#00c8ff" stroke-width="1.55"/>
<polyline points="303.6,159.3 308.6,159.6" stroke="#0098ff" stroke-width="1.24"/>
<polyline points="309.3,161.1 311.6,162.7" stroke="#0040ff" stroke-width="1.85"/>
<polyline points="304.7,169.3 305.8,171.6" stroke="#0a14ff" stroke-width="1.85"/>
<polyline points="309.3,172.9 313.2,173.5 317.8,171.6" stroke="#0040ff" stroke-width="1.85"/>
<polyline points="311.6,173.5 317.8,171.9" stroke="#0098ff" stroke-width="0.93"/>
<polyline points="264.0,177.5 266.8,178.1" stroke="#0a14ff" stroke-width="2.16"/>
<polygon points="264.5,176.6 269.9,178.6 277.6,180.9 285.4,183.2 292.3,186.8 291.9,187.9 285.4,185.9 277.6,183.2 269.9,180.6 264.5,178.6" fill="#0098ff" stroke="#0098ff" stroke-width="0.23"/>
<polyline points="267.6,176.6 270.2,175.0" stroke="#00c8ff" stroke-width="1.24"/>
<polyline points="267.6,178.6 274.5,180.9 280.7,182.9 288.5,185.9" stroke="#00c8ff" stroke-width="1.85"/>
<polyline points="273.0,180.8 280.7,183.1 287.7,185.4" stroke="#20e8e0" stroke-width="1.55"/>
<polyline points="276.1,181.7 283.8,184.0" stroke="#60ffa0" stroke-width="0.77"/>
<polyline points="304.2,192.5 304.4,192.8" stroke="#00c8ff" stroke-width="0.93"/>
<polyline points="322.5,200.2 322.8,200.5" stroke="#0098ff" stroke-width="1.24"/>
<polyline points="232.8,224.5 233.3,224.5" stroke="#0040ff" stroke-width="1.62"/>
<polyline points="258.4,227.7 261.0,231.2 267.0,234.9" stroke="#0040ff" stroke-width="2.16"/>
<polygon points="255.5,232.3 258.8,228.4 262.0,231.6 258.8,233.1" fill="#0040ff" stroke="#0040ff" stroke-width="0.32"/>
</g>
<rect x="210.5" y="152.0" width="126.25" height="94.9" fill="none" stroke="#b4b4b4" stroke-width="0.9"/>
<line x1="223.60" y1="246.9" x2="223.60" y2="245.6" stroke="#b4b4b4" stroke-width="0.7"/>
<line x1="223.60" y1="152.0" x2="223.60" y2="153.3" stroke="#b4b4b4" stroke-width="0.7"/>
<line x1="210.5" y1="158.70" x2="211.8" y2="158.70" stroke="#b4b4b4" stroke-width="0.7"/>
<line x1="336.75" y1="158.70" x2="335.45" y2="158.70" stroke="#b4b4b4" stroke-width="0.7"/>
<text x="223.60" y="259.20" class="tk" text-anchor="middle">420</text>
<text x="207.90" y="162.70" class="tk" text-anchor="end">6070</text>
<line x1="243.80" y1="246.9" x2="243.80" y2="245.6" stroke="#b4b4b4" stroke-width="0.7"/>
<line x1="243.80" y1="152.0" x2="243.80" y2="153.3" stroke="#b4b4b4" stroke-width="0.7"/>
<line x1="210.5" y1="173.94" x2="211.8" y2="173.94" stroke="#b4b4b4" stroke-width="0.7"/>
<line x1="336.75" y1="173.94" x2="335.45" y2="173.94" stroke="#b4b4b4" stroke-width="0.7"/>
<text x="243.80" y="259.20" class="tk" text-anchor="middle">430</text>
<text x="207.90" y="177.94" class="tk" text-anchor="end">6060</text>
<line x1="264.00" y1="246.9" x2="264.00" y2="245.6" stroke="#b4b4b4" stroke-width="0.7"/>
<line x1="264.00" y1="152.0" x2="264.00" y2="153.3" stroke="#b4b4b4" stroke-width="0.7"/>
<line x1="210.5" y1="189.18" x2="211.8" y2="189.18" stroke="#b4b4b4" stroke-width="0.7"/>
<line x1="336.75" y1="189.18" x2="335.45" y2="189.18" stroke="#b4b4b4" stroke-width="0.7"/>
<text x="264.00" y="259.20" class="tk" text-anchor="middle">440</text>
<text x="207.90" y="193.18" class="tk" text-anchor="end">6050</text>
<line x1="284.20" y1="246.9" x2="284.20" y2="245.6" stroke="#b4b4b4" stroke-width="0.7"/>
<line x1="284.20" y1="152.0" x2="284.20" y2="153.3" stroke="#b4b4b4" stroke-width="0.7"/>
<line x1="210.5" y1="204.42" x2="211.8" y2="204.42" stroke="#b4b4b4" stroke-width="0.7"/>
<line x1="336.75" y1="204.42" x2="335.45" y2="204.42" stroke="#b4b4b4" stroke-width="0.7"/>
<text x="284.20" y="259.20" class="tk" text-anchor="middle">450</text>
<text x="207.90" y="208.42" class="tk" text-anchor="end">6040</text>
<line x1="304.40" y1="246.9" x2="304.40" y2="245.6" stroke="#b4b4b4" stroke-width="0.7"/>
<line x1="304.40" y1="152.0" x2="304.40" y2="153.3" stroke="#b4b4b4" stroke-width="0.7"/>
<line x1="210.5" y1="219.66" x2="211.8" y2="219.66" stroke="#b4b4b4" stroke-width="0.7"/>
<line x1="336.75" y1="219.66" x2="335.45" y2="219.66" stroke="#b4b4b4" stroke-width="0.7"/>
<text x="304.40" y="259.20" class="tk" text-anchor="middle">460</text>
<text x="207.90" y="223.66" class="tk" text-anchor="end">6030</text>
<line x1="324.60" y1="246.9" x2="324.60" y2="245.6" stroke="#b4b4b4" stroke-width="0.7"/>
<line x1="324.60" y1="152.0" x2="324.60" y2="153.3" stroke="#b4b4b4" stroke-width="0.7"/>
<line x1="210.5" y1="234.90" x2="211.8" y2="234.90" stroke="#b4b4b4" stroke-width="0.7"/>
<line x1="336.75" y1="234.90" x2="335.45" y2="234.90" stroke="#b4b4b4" stroke-width="0.7"/>
<text x="324.60" y="259.20" class="tk" text-anchor="middle">470</text>
<text x="207.90" y="238.90" class="tk" text-anchor="end">6020</text>
<text x="217.0" y="164.80" class="lb">(e)</text>
<text x="274.02" y="147.70" class="tt" text-anchor="middle"><tspan font-style="italic">z</tspan><tspan dx="0.9" dy="1.1" font-size="12.4">=</tspan><tspan dx="0.6" dy="-1.1">3300</tspan></text>
<clipPath id="cp5"><rect x="376.5" y="152.0" width="126.25" height="94.9"/></clipPath>
<rect x="376.5" y="152.0" width="126.25" height="94.9" fill="#fff"/>
<line x1="389.60" y1="152.0" x2="389.60" y2="246.9" stroke="#f3f3f3" stroke-width="0.7"/>
<line x1="376.5" y1="158.70" x2="502.75" y2="158.70" stroke="#f3f3f3" stroke-width="0.7"/>
<line x1="409.80" y1="152.0" x2="409.80" y2="246.9" stroke="#f3f3f3" stroke-width="0.7"/>
<line x1="376.5" y1="173.94" x2="502.75" y2="173.94" stroke="#f3f3f3" stroke-width="0.7"/>
<line x1="430.00" y1="152.0" x2="430.00" y2="246.9" stroke="#f3f3f3" stroke-width="0.7"/>
<line x1="376.5" y1="189.18" x2="502.75" y2="189.18" stroke="#f3f3f3" stroke-width="0.7"/>
<line x1="450.20" y1="152.0" x2="450.20" y2="246.9" stroke="#f3f3f3" stroke-width="0.7"/>
<line x1="376.5" y1="204.42" x2="502.75" y2="204.42" stroke="#f3f3f3" stroke-width="0.7"/>
<line x1="470.40" y1="152.0" x2="470.40" y2="246.9" stroke="#f3f3f3" stroke-width="0.7"/>
<line x1="376.5" y1="219.66" x2="502.75" y2="219.66" stroke="#f3f3f3" stroke-width="0.7"/>
<line x1="490.60" y1="152.0" x2="490.60" y2="246.9" stroke="#f3f3f3" stroke-width="0.7"/>
<line x1="376.5" y1="234.90" x2="502.75" y2="234.90" stroke="#f3f3f3" stroke-width="0.7"/>
<g clip-path="url(#cp5)" stroke-linecap="round" stroke-linejoin="round" fill="none">
<polygon points="380.2,199.7 381.4,198.8 383.2,199.1 385.0,199.3 385.8,200.1 384.3,201.2 382.5,201.5 381.0,201.0" fill="#20e8e0" stroke="#20e8e0" stroke-width="0.44"/>
<polygon points="384.7,199.0 386.1,197.9 387.2,199.3 386.9,200.8 385.0,201.2" fill="#a0ff60" stroke="#a0ff60" stroke-width="0.29"/>
<polygon points="385.8,197.1 387.6,196.0 390.5,196.2 393.1,197.9 395.0,199.7 395.0,201.2 393.5,202.1 391.3,202.3 389.4,202.1 388.3,200.8 386.9,199.3" fill="#ff9000" stroke="#ff9000" stroke-width="0.44"/>
<polygon points="387.6,198.8 389.6,198.8 391.1,200.1 390.8,201.6 389.4,201.6 388.3,200.4" fill="#e0f020" stroke="#e0f020" stroke-width="0.22"/>
<polyline points="392.8,198.6 394.4,200.1 394.0,201.3" stroke="#ff7000" stroke-width="0.74"/>
<polyline points="415.0,152.5 415.2,152.8" stroke="#00c8ff" stroke-width="1.50"/>
<polyline points="472.0,151.8 469.0,158.8" stroke="#08dcf8" stroke-width="1.60"/>
<polyline points="477.5,151.8 472.0,159.2" stroke="#08dcf8" stroke-width="1.60"/>
<polyline points="469.0,159.0 472.0,159.2" stroke="#08dcf8" stroke-width="1.50"/>
<polyline points="474.0,164.2 474.2,164.5" stroke="#0098ff" stroke-width="1.00"/>
<polyline points="471.5,172.2 472.5,173.5" stroke="#0040ff" stroke-width="1.50"/>
<polyline points="476.5,173.8 480.8,173.5" stroke="#0098ff" stroke-width="1.50"/>
<polyline points="429.5,176.8 431.5,177.5" stroke="#0040ff" stroke-width="2.00"/>
<polyline points="433.8,177.5 434.0,177.8" stroke="#00c8ff" stroke-width="1.00"/>
<polyline points="438.2,180.0 442.0,181.2" stroke="#00c8ff" stroke-width="1.50"/>
<polyline points="441.5,181.2 447.0,183.0" stroke="#20e8e0" stroke-width="2.00"/>
<polyline points="446.5,183.0 452.5,184.5" stroke="#60ffa0" stroke-width="1.50"/>
<polyline points="481.5,210.5 482.0,211.5" stroke="#a0ff60" stroke-width="1.25"/>
<polyline points="479.5,221.0 483.2,225.0 487.0,229.2" stroke="#60ffa0" stroke-width="1.75"/>
<polyline points="482.0,223.5 487.0,229.5 490.8,233.5" stroke="#a0ff60" stroke-width="1.75"/>
<polyline points="490.8,233.5 492.0,236.8 492.0,239.2" stroke="#60ffa0" stroke-width="1.50"/>
<polyline points="421.5,230.8 423.0,229.0" stroke="#0098ff" stroke-width="2.00"/>
<polyline points="422.0,230.0 425.8,230.8 430.0,232.5" stroke="#0070ff" stroke-width="1.75"/>
<polyline points="423.2,228.5 425.0,229.5" stroke="#0098ff" stroke-width="1.50"/>
<polyline points="496.2,245.5 500.0,246.2" stroke="#00c8ff" stroke-width="2.00"/>
<polyline points="498.2,244.2 500.0,247.2" stroke="#00c8ff" stroke-width="1.50"/>
</g>
<rect x="376.5" y="152.0" width="126.25" height="94.9" fill="none" stroke="#b4b4b4" stroke-width="0.9"/>
<line x1="389.60" y1="246.9" x2="389.60" y2="245.6" stroke="#b4b4b4" stroke-width="0.7"/>
<line x1="389.60" y1="152.0" x2="389.60" y2="153.3" stroke="#b4b4b4" stroke-width="0.7"/>
<line x1="376.5" y1="158.70" x2="377.8" y2="158.70" stroke="#b4b4b4" stroke-width="0.7"/>
<line x1="502.75" y1="158.70" x2="501.45" y2="158.70" stroke="#b4b4b4" stroke-width="0.7"/>
<text x="389.60" y="259.20" class="tk" text-anchor="middle">420</text>
<text x="373.90" y="162.70" class="tk" text-anchor="end">6070</text>
<line x1="409.80" y1="246.9" x2="409.80" y2="245.6" stroke="#b4b4b4" stroke-width="0.7"/>
<line x1="409.80" y1="152.0" x2="409.80" y2="153.3" stroke="#b4b4b4" stroke-width="0.7"/>
<line x1="376.5" y1="173.94" x2="377.8" y2="173.94" stroke="#b4b4b4" stroke-width="0.7"/>
<line x1="502.75" y1="173.94" x2="501.45" y2="173.94" stroke="#b4b4b4" stroke-width="0.7"/>
<text x="409.80" y="259.20" class="tk" text-anchor="middle">430</text>
<text x="373.90" y="177.94" class="tk" text-anchor="end">6060</text>
<line x1="430.00" y1="246.9" x2="430.00" y2="245.6" stroke="#b4b4b4" stroke-width="0.7"/>
<line x1="430.00" y1="152.0" x2="430.00" y2="153.3" stroke="#b4b4b4" stroke-width="0.7"/>
<line x1="376.5" y1="189.18" x2="377.8" y2="189.18" stroke="#b4b4b4" stroke-width="0.7"/>
<line x1="502.75" y1="189.18" x2="501.45" y2="189.18" stroke="#b4b4b4" stroke-width="0.7"/>
<text x="430.00" y="259.20" class="tk" text-anchor="middle">440</text>
<text x="373.90" y="193.18" class="tk" text-anchor="end">6050</text>
<line x1="450.20" y1="246.9" x2="450.20" y2="245.6" stroke="#b4b4b4" stroke-width="0.7"/>
<line x1="450.20" y1="152.0" x2="450.20" y2="153.3" stroke="#b4b4b4" stroke-width="0.7"/>
<line x1="376.5" y1="204.42" x2="377.8" y2="204.42" stroke="#b4b4b4" stroke-width="0.7"/>
<line x1="502.75" y1="204.42" x2="501.45" y2="204.42" stroke="#b4b4b4" stroke-width="0.7"/>
<text x="450.20" y="259.20" class="tk" text-anchor="middle">450</text>
<text x="373.90" y="208.42" class="tk" text-anchor="end">6040</text>
<line x1="470.40" y1="246.9" x2="470.40" y2="245.6" stroke="#b4b4b4" stroke-width="0.7"/>
<line x1="470.40" y1="152.0" x2="470.40" y2="153.3" stroke="#b4b4b4" stroke-width="0.7"/>
<line x1="376.5" y1="219.66" x2="377.8" y2="219.66" stroke="#b4b4b4" stroke-width="0.7"/>
<line x1="502.75" y1="219.66" x2="501.45" y2="219.66" stroke="#b4b4b4" stroke-width="0.7"/>
<text x="470.40" y="259.20" class="tk" text-anchor="middle">460</text>
<text x="373.90" y="223.66" class="tk" text-anchor="end">6030</text>
<line x1="490.60" y1="246.9" x2="490.60" y2="245.6" stroke="#b4b4b4" stroke-width="0.7"/>
<line x1="490.60" y1="152.0" x2="490.60" y2="153.3" stroke="#b4b4b4" stroke-width="0.7"/>
<line x1="376.5" y1="234.90" x2="377.8" y2="234.90" stroke="#b4b4b4" stroke-width="0.7"/>
<line x1="502.75" y1="234.90" x2="501.45" y2="234.90" stroke="#b4b4b4" stroke-width="0.7"/>
<text x="490.60" y="259.20" class="tk" text-anchor="middle">470</text>
<text x="373.90" y="238.90" class="tk" text-anchor="end">6020</text>
<text x="383.0" y="164.80" class="lb">(f)</text>
<text x="440.02" y="147.70" class="tt" text-anchor="middle"><tspan font-style="italic">z</tspan><tspan dx="0.9" dy="1.1" font-size="12.4">=</tspan><tspan dx="0.6" dy="-1.1">4250</tspan></text>
<clipPath id="cp6"><rect x="44.5" y="284.7" width="126.25" height="94.9"/></clipPath>
<rect x="44.5" y="284.7" width="126.25" height="94.9" fill="#fff"/>
<line x1="57.60" y1="284.7" x2="57.60" y2="379.6" stroke="#f3f3f3" stroke-width="0.7"/>
<line x1="44.5" y1="291.40" x2="170.75" y2="291.40" stroke="#f3f3f3" stroke-width="0.7"/>
<line x1="77.80" y1="284.7" x2="77.80" y2="379.6" stroke="#f3f3f3" stroke-width="0.7"/>
<line x1="44.5" y1="306.64" x2="170.75" y2="306.64" stroke="#f3f3f3" stroke-width="0.7"/>
<line x1="98.00" y1="284.7" x2="98.00" y2="379.6" stroke="#f3f3f3" stroke-width="0.7"/>
<line x1="44.5" y1="321.88" x2="170.75" y2="321.88" stroke="#f3f3f3" stroke-width="0.7"/>
<line x1="118.20" y1="284.7" x2="118.20" y2="379.6" stroke="#f3f3f3" stroke-width="0.7"/>
<line x1="44.5" y1="337.12" x2="170.75" y2="337.12" stroke="#f3f3f3" stroke-width="0.7"/>
<line x1="138.40" y1="284.7" x2="138.40" y2="379.6" stroke="#f3f3f3" stroke-width="0.7"/>
<line x1="44.5" y1="352.36" x2="170.75" y2="352.36" stroke="#f3f3f3" stroke-width="0.7"/>
<line x1="158.60" y1="284.7" x2="158.60" y2="379.6" stroke="#f3f3f3" stroke-width="0.7"/>
<line x1="44.5" y1="367.60" x2="170.75" y2="367.60" stroke="#f3f3f3" stroke-width="0.7"/>
<g clip-path="url(#cp6)" stroke-linecap="round" stroke-linejoin="round" fill="none">
<polyline points="51.0,331.5 51.5,331.5" stroke="#a0ff60" stroke-width="2.26"/>
<polygon points="54.8,330.0 56.8,329.4 59.6,330.7 61.8,331.9 61.1,333.2 58.9,333.8 57.7,332.3 55.6,331.3" fill="#ff3000" stroke="#ff3000" stroke-width="0.50"/>
<polyline points="56.8,331.5 58.7,333.3" stroke="#ff9000" stroke-width="1.32"/>
<polygon points="89.4,361.4 90.9,360.2 92.8,360.8 94.7,362.0 94.1,362.9 92.2,362.7 91.2,363.7 89.9,362.9" fill="#00c8ff" stroke="#00c8ff" stroke-width="0.50"/>
<polyline points="96.2,363.9 96.3,364.2" stroke="#00c8ff" stroke-width="0.75"/>
<polyline points="139.6,285.1 136.5,292.0" stroke="#40ffb0" stroke-width="1.32"/>
<polyline points="144.0,285.1 139.6,291.4" stroke="#40ffb0" stroke-width="1.32"/>
<polyline points="136.5,291.8 139.6,291.4" stroke="#40ffb0" stroke-width="1.13"/>
<polyline points="139.6,285.1 144.0,285.1" stroke="#40ffb0" stroke-width="1.13"/>
<polyline points="110.8,314.9 114.5,315.6 118.3,316.5" stroke="#60ffa0" stroke-width="1.13"/>
<polyline points="148.3,354.6 150.6,357.6 153.2,360.1" stroke="#c8f020" stroke-width="1.31"/>
<polyline points="156.7,364.1 157.0,364.4" stroke="#60ffa0" stroke-width="1.05"/>
<polyline points="159.4,365.6 159.7,367.1" stroke="#60ffa0" stroke-width="1.05"/>
<polyline points="160.7,370.7 160.8,370.8" stroke="#60ffc0" stroke-width="0.65"/>
<polyline points="165.7,378.4 167.7,379.2 169.2,379.7" stroke="#20e8e0" stroke-width="1.83"/>
</g>
<rect x="44.5" y="284.7" width="126.25" height="94.9" fill="none" stroke="#b4b4b4" stroke-width="0.9"/>
<line x1="57.60" y1="379.6" x2="57.60" y2="378.3" stroke="#b4b4b4" stroke-width="0.7"/>
<line x1="57.60" y1="284.7" x2="57.60" y2="286.0" stroke="#b4b4b4" stroke-width="0.7"/>
<line x1="44.5" y1="291.40" x2="45.8" y2="291.40" stroke="#b4b4b4" stroke-width="0.7"/>
<line x1="170.75" y1="291.40" x2="169.45" y2="291.40" stroke="#b4b4b4" stroke-width="0.7"/>
<text x="57.60" y="391.90" class="tk" text-anchor="middle">420</text>
<text x="41.90" y="295.40" class="tk" text-anchor="end">6070</text>
<line x1="77.80" y1="379.6" x2="77.80" y2="378.3" stroke="#b4b4b4" stroke-width="0.7"/>
<line x1="77.80" y1="284.7" x2="77.80" y2="286.0" stroke="#b4b4b4" stroke-width="0.7"/>
<line x1="44.5" y1="306.64" x2="45.8" y2="306.64" stroke="#b4b4b4" stroke-width="0.7"/>
<line x1="170.75" y1="306.64" x2="169.45" y2="306.64" stroke="#b4b4b4" stroke-width="0.7"/>
<text x="77.80" y="391.90" class="tk" text-anchor="middle">430</text>
<text x="41.90" y="310.64" class="tk" text-anchor="end">6060</text>
<line x1="98.00" y1="379.6" x2="98.00" y2="378.3" stroke="#b4b4b4" stroke-width="0.7"/>
<line x1="98.00" y1="284.7" x2="98.00" y2="286.0" stroke="#b4b4b4" stroke-width="0.7"/>
<line x1="44.5" y1="321.88" x2="45.8" y2="321.88" stroke="#b4b4b4" stroke-width="0.7"/>
<line x1="170.75" y1="321.88" x2="169.45" y2="321.88" stroke="#b4b4b4" stroke-width="0.7"/>
<text x="98.00" y="391.90" class="tk" text-anchor="middle">440</text>
<text x="41.90" y="325.88" class="tk" text-anchor="end">6050</text>
<line x1="118.20" y1="379.6" x2="118.20" y2="378.3" stroke="#b4b4b4" stroke-width="0.7"/>
<line x1="118.20" y1="284.7" x2="118.20" y2="286.0" stroke="#b4b4b4" stroke-width="0.7"/>
<line x1="44.5" y1="337.12" x2="45.8" y2="337.12" stroke="#b4b4b4" stroke-width="0.7"/>
<line x1="170.75" y1="337.12" x2="169.45" y2="337.12" stroke="#b4b4b4" stroke-width="0.7"/>
<text x="118.20" y="391.90" class="tk" text-anchor="middle">450</text>
<text x="41.90" y="341.12" class="tk" text-anchor="end">6040</text>
<line x1="138.40" y1="379.6" x2="138.40" y2="378.3" stroke="#b4b4b4" stroke-width="0.7"/>
<line x1="138.40" y1="284.7" x2="138.40" y2="286.0" stroke="#b4b4b4" stroke-width="0.7"/>
<line x1="44.5" y1="352.36" x2="45.8" y2="352.36" stroke="#b4b4b4" stroke-width="0.7"/>
<line x1="170.75" y1="352.36" x2="169.45" y2="352.36" stroke="#b4b4b4" stroke-width="0.7"/>
<text x="138.40" y="391.90" class="tk" text-anchor="middle">460</text>
<text x="41.90" y="356.36" class="tk" text-anchor="end">6030</text>
<line x1="158.60" y1="379.6" x2="158.60" y2="378.3" stroke="#b4b4b4" stroke-width="0.7"/>
<line x1="158.60" y1="284.7" x2="158.60" y2="286.0" stroke="#b4b4b4" stroke-width="0.7"/>
<line x1="44.5" y1="367.60" x2="45.8" y2="367.60" stroke="#b4b4b4" stroke-width="0.7"/>
<line x1="170.75" y1="367.60" x2="169.45" y2="367.60" stroke="#b4b4b4" stroke-width="0.7"/>
<text x="158.60" y="391.90" class="tk" text-anchor="middle">470</text>
<text x="41.90" y="371.60" class="tk" text-anchor="end">6020</text>
<text x="51.0" y="297.50" class="lb">(g)</text>
<text x="108.03" y="280.40" class="tt" text-anchor="middle"><tspan font-style="italic">z</tspan><tspan dx="0.9" dy="1.1" font-size="12.4">=</tspan><tspan dx="0.6" dy="-1.1">5250</tspan></text>
<text transform="translate(14.2,332.15) rotate(-90)" class="ax" text-anchor="middle"><tspan font-style="italic">y</tspan><tspan font-style="italic" font-size="8" dy="1.8">o</tspan><tspan dy="-1.8"> (Km)</tspan></text>
<text x="107.62" y="402.6" class="ax" text-anchor="middle"><tspan font-style="italic">x</tspan><tspan font-style="italic" font-size="8" dy="1.8">o</tspan><tspan dy="-1.8"> (Km)</tspan></text>
<clipPath id="cp7"><rect x="210.5" y="284.7" width="126.25" height="94.9"/></clipPath>
<rect x="210.5" y="284.7" width="126.25" height="94.9" fill="#fff"/>
<line x1="223.60" y1="284.7" x2="223.60" y2="379.6" stroke="#f3f3f3" stroke-width="0.7"/>
<line x1="210.5" y1="291.40" x2="336.75" y2="291.40" stroke="#f3f3f3" stroke-width="0.7"/>
<line x1="243.80" y1="284.7" x2="243.80" y2="379.6" stroke="#f3f3f3" stroke-width="0.7"/>
<line x1="210.5" y1="306.64" x2="336.75" y2="306.64" stroke="#f3f3f3" stroke-width="0.7"/>
<line x1="264.00" y1="284.7" x2="264.00" y2="379.6" stroke="#f3f3f3" stroke-width="0.7"/>
<line x1="210.5" y1="321.88" x2="336.75" y2="321.88" stroke="#f3f3f3" stroke-width="0.7"/>
<line x1="284.20" y1="284.7" x2="284.20" y2="379.6" stroke="#f3f3f3" stroke-width="0.7"/>
<line x1="210.5" y1="337.12" x2="336.75" y2="337.12" stroke="#f3f3f3" stroke-width="0.7"/>
<line x1="304.40" y1="284.7" x2="304.40" y2="379.6" stroke="#f3f3f3" stroke-width="0.7"/>
<line x1="210.5" y1="352.36" x2="336.75" y2="352.36" stroke="#f3f3f3" stroke-width="0.7"/>
<line x1="324.60" y1="284.7" x2="324.60" y2="379.6" stroke="#f3f3f3" stroke-width="0.7"/>
<line x1="210.5" y1="367.60" x2="336.75" y2="367.60" stroke="#f3f3f3" stroke-width="0.7"/>
<g clip-path="url(#cp7)" stroke-linecap="round" stroke-linejoin="round" fill="none">
<polyline points="301.5,291.2 304.8,287.5 307.2,285.0" stroke="#70f040" stroke-width="1.75"/>
<polyline points="217.8,330.5 218.0,330.5" stroke="#e0f020" stroke-width="1.00"/>
<polyline points="221.5,330.5 225.0,331.5" stroke="#ff3000" stroke-width="1.75"/>
<polyline points="221.0,330.0 223.5,330.2" stroke="#ff3000" stroke-width="1.00"/>
<polyline points="256.0,360.5 258.0,360.8" stroke="#00c8ff" stroke-width="2.25"/>
<polyline points="333.0,379.2 334.0,379.5" stroke="#60ffa0" stroke-width="1.25"/>
</g>
<rect x="210.5" y="284.7" width="126.25" height="94.9" fill="none" stroke="#b4b4b4" stroke-width="0.9"/>
<line x1="223.60" y1="379.6" x2="223.60" y2="378.3" stroke="#b4b4b4" stroke-width="0.7"/>
<line x1="223.60" y1="284.7" x2="223.60" y2="286.0" stroke="#b4b4b4" stroke-width="0.7"/>
<line x1="210.5" y1="291.40" x2="211.8" y2="291.40" stroke="#b4b4b4" stroke-width="0.7"/>
<line x1="336.75" y1="291.40" x2="335.45" y2="291.40" stroke="#b4b4b4" stroke-width="0.7"/>
<text x="223.60" y="391.90" class="tk" text-anchor="middle">420</text>
<text x="207.90" y="295.40" class="tk" text-anchor="end">6070</text>
<line x1="243.80" y1="379.6" x2="243.80" y2="378.3" stroke="#b4b4b4" stroke-width="0.7"/>
<line x1="243.80" y1="284.7" x2="243.80" y2="286.0" stroke="#b4b4b4" stroke-width="0.7"/>
<line x1="210.5" y1="306.64" x2="211.8" y2="306.64" stroke="#b4b4b4" stroke-width="0.7"/>
<line x1="336.75" y1="306.64" x2="335.45" y2="306.64" stroke="#b4b4b4" stroke-width="0.7"/>
<text x="243.80" y="391.90" class="tk" text-anchor="middle">430</text>
<text x="207.90" y="310.64" class="tk" text-anchor="end">6060</text>
<line x1="264.00" y1="379.6" x2="264.00" y2="378.3" stroke="#b4b4b4" stroke-width="0.7"/>
<line x1="264.00" y1="284.7" x2="264.00" y2="286.0" stroke="#b4b4b4" stroke-width="0.7"/>
<line x1="210.5" y1="321.88" x2="211.8" y2="321.88" stroke="#b4b4b4" stroke-width="0.7"/>
<line x1="336.75" y1="321.88" x2="335.45" y2="321.88" stroke="#b4b4b4" stroke-width="0.7"/>
<text x="264.00" y="391.90" class="tk" text-anchor="middle">440</text>
<text x="207.90" y="325.88" class="tk" text-anchor="end">6050</text>
<line x1="284.20" y1="379.6" x2="284.20" y2="378.3" stroke="#b4b4b4" stroke-width="0.7"/>
<line x1="284.20" y1="284.7" x2="284.20" y2="286.0" stroke="#b4b4b4" stroke-width="0.7"/>
<line x1="210.5" y1="337.12" x2="211.8" y2="337.12" stroke="#b4b4b4" stroke-width="0.7"/>
<line x1="336.75" y1="337.12" x2="335.45" y2="337.12" stroke="#b4b4b4" stroke-width="0.7"/>
<text x="284.20" y="391.90" class="tk" text-anchor="middle">450</text>
<text x="207.90" y="341.12" class="tk" text-anchor="end">6040</text>
<line x1="304.40" y1="379.6" x2="304.40" y2="378.3" stroke="#b4b4b4" stroke-width="0.7"/>
<line x1="304.40" y1="284.7" x2="304.40" y2="286.0" stroke="#b4b4b4" stroke-width="0.7"/>
<line x1="210.5" y1="352.36" x2="211.8" y2="352.36" stroke="#b4b4b4" stroke-width="0.7"/>
<line x1="336.75" y1="352.36" x2="335.45" y2="352.36" stroke="#b4b4b4" stroke-width="0.7"/>
<text x="304.40" y="391.90" class="tk" text-anchor="middle">460</text>
<text x="207.90" y="356.36" class="tk" text-anchor="end">6030</text>
<line x1="324.60" y1="379.6" x2="324.60" y2="378.3" stroke="#b4b4b4" stroke-width="0.7"/>
<line x1="324.60" y1="284.7" x2="324.60" y2="286.0" stroke="#b4b4b4" stroke-width="0.7"/>
<line x1="210.5" y1="367.60" x2="211.8" y2="367.60" stroke="#b4b4b4" stroke-width="0.7"/>
<line x1="336.75" y1="367.60" x2="335.45" y2="367.60" stroke="#b4b4b4" stroke-width="0.7"/>
<text x="324.60" y="391.90" class="tk" text-anchor="middle">470</text>
<text x="207.90" y="371.60" class="tk" text-anchor="end">6020</text>
<text x="217.0" y="297.50" class="lb">(h)</text>
<text x="274.02" y="280.40" class="tt" text-anchor="middle"><tspan font-style="italic">z</tspan><tspan dx="0.9" dy="1.1" font-size="12.4">=</tspan><tspan dx="0.6" dy="-1.1">6200</tspan></text>
<text x="273.62" y="402.6" class="ax" text-anchor="middle"><tspan font-style="italic">x</tspan><tspan font-style="italic" font-size="8" dy="1.8">o</tspan><tspan dy="-1.8"> (Km)</tspan></text>
<clipPath id="cp8"><rect x="376.5" y="284.7" width="126.25" height="94.9"/></clipPath>
<rect x="376.5" y="284.7" width="126.25" height="94.9" fill="#fff"/>
<line x1="389.60" y1="284.7" x2="389.60" y2="379.6" stroke="#f3f3f3" stroke-width="0.7"/>
<line x1="376.5" y1="291.40" x2="502.75" y2="291.40" stroke="#f3f3f3" stroke-width="0.7"/>
<line x1="409.80" y1="284.7" x2="409.80" y2="379.6" stroke="#f3f3f3" stroke-width="0.7"/>
<line x1="376.5" y1="306.64" x2="502.75" y2="306.64" stroke="#f3f3f3" stroke-width="0.7"/>
<line x1="430.00" y1="284.7" x2="430.00" y2="379.6" stroke="#f3f3f3" stroke-width="0.7"/>
<line x1="376.5" y1="321.88" x2="502.75" y2="321.88" stroke="#f3f3f3" stroke-width="0.7"/>
<line x1="450.20" y1="284.7" x2="450.20" y2="379.6" stroke="#f3f3f3" stroke-width="0.7"/>
<line x1="376.5" y1="337.12" x2="502.75" y2="337.12" stroke="#f3f3f3" stroke-width="0.7"/>
<line x1="470.40" y1="284.7" x2="470.40" y2="379.6" stroke="#f3f3f3" stroke-width="0.7"/>
<line x1="376.5" y1="352.36" x2="502.75" y2="352.36" stroke="#f3f3f3" stroke-width="0.7"/>
<line x1="490.60" y1="284.7" x2="490.60" y2="379.6" stroke="#f3f3f3" stroke-width="0.7"/>
<line x1="376.5" y1="367.60" x2="502.75" y2="367.60" stroke="#f3f3f3" stroke-width="0.7"/>
<g clip-path="url(#cp8)" stroke-linecap="round" stroke-linejoin="round" fill="none">
<polyline points="466.5,291.0 469.5,288.0 472.0,285.0" stroke="#c0f020" stroke-width="1.50"/>
<polyline points="421.2,359.5 422.5,360.0" stroke="#20f0c0" stroke-width="1.50"/>
</g>
<rect x="376.5" y="284.7" width="126.25" height="94.9" fill="none" stroke="#b4b4b4" stroke-width="0.9"/>
<line x1="389.60" y1="379.6" x2="389.60" y2="378.3" stroke="#b4b4b4" stroke-width="0.7"/>
<line x1="389.60" y1="284.7" x2="389.60" y2="286.0" stroke="#b4b4b4" stroke-width="0.7"/>
<line x1="376.5" y1="291.40" x2="377.8" y2="291.40" stroke="#b4b4b4" stroke-width="0.7"/>
<line x1="502.75" y1="291.40" x2="501.45" y2="291.40" stroke="#b4b4b4" stroke-width="0.7"/>
<text x="389.60" y="391.90" class="tk" text-anchor="middle">420</text>
<text x="373.90" y="295.40" class="tk" text-anchor="end">6070</text>
<line x1="409.80" y1="379.6" x2="409.80" y2="378.3" stroke="#b4b4b4" stroke-width="0.7"/>
<line x1="409.80" y1="284.7" x2="409.80" y2="286.0" stroke="#b4b4b4" stroke-width="0.7"/>
<line x1="376.5" y1="306.64" x2="377.8" y2="306.64" stroke="#b4b4b4" stroke-width="0.7"/>
<line x1="502.75" y1="306.64" x2="501.45" y2="306.64" stroke="#b4b4b4" stroke-width="0.7"/>
<text x="409.80" y="391.90" class="tk" text-anchor="middle">430</text>
<text x="373.90" y="310.64" class="tk" text-anchor="end">6060</text>
<line x1="430.00" y1="379.6" x2="430.00" y2="378.3" stroke="#b4b4b4" stroke-width="0.7"/>
<line x1="430.00" y1="284.7" x2="430.00" y2="286.0" stroke="#b4b4b4" stroke-width="0.7"/>
<line x1="376.5" y1="321.88" x2="377.8" y2="321.88" stroke="#b4b4b4" stroke-width="0.7"/>
<line x1="502.75" y1="321.88" x2="501.45" y2="321.88" stroke="#b4b4b4" stroke-width="0.7"/>
<text x="430.00" y="391.90" class="tk" text-anchor="middle">440</text>
<text x="373.90" y="325.88" class="tk" text-anchor="end">6050</text>
<line x1="450.20" y1="379.6" x2="450.20" y2="378.3" stroke="#b4b4b4" stroke-width="0.7"/>
<line x1="450.20" y1="284.7" x2="450.20" y2="286.0" stroke="#b4b4b4" stroke-width="0.7"/>
<line x1="376.5" y1="337.12" x2="377.8" y2="337.12" stroke="#b4b4b4" stroke-width="0.7"/>
<line x1="502.75" y1="337.12" x2="501.45" y2="337.12" stroke="#b4b4b4" stroke-width="0.7"/>
<text x="450.20" y="391.90" class="tk" text-anchor="middle">450</text>
<text x="373.90" y="341.12" class="tk" text-anchor="end">6040</text>
<line x1="470.40" y1="379.6" x2="470.40" y2="378.3" stroke="#b4b4b4" stroke-width="0.7"/>
<line x1="470.40" y1="284.7" x2="470.40" y2="286.0" stroke="#b4b4b4" stroke-width="0.7"/>
<line x1="376.5" y1="352.36" x2="377.8" y2="352.36" stroke="#b4b4b4" stroke-width="0.7"/>
<line x1="502.75" y1="352.36" x2="501.45" y2="352.36" stroke="#b4b4b4" stroke-width="0.7"/>
<text x="470.40" y="391.90" class="tk" text-anchor="middle">460</text>
<text x="373.90" y="356.36" class="tk" text-anchor="end">6030</text>
<line x1="490.60" y1="379.6" x2="490.60" y2="378.3" stroke="#b4b4b4" stroke-width="0.7"/>
<line x1="490.60" y1="284.7" x2="490.60" y2="286.0" stroke="#b4b4b4" stroke-width="0.7"/>
<line x1="376.5" y1="367.60" x2="377.8" y2="367.60" stroke="#b4b4b4" stroke-width="0.7"/>
<line x1="502.75" y1="367.60" x2="501.45" y2="367.60" stroke="#b4b4b4" stroke-width="0.7"/>
<text x="490.60" y="391.90" class="tk" text-anchor="middle">470</text>
<text x="373.90" y="371.60" class="tk" text-anchor="end">6020</text>
<text x="383.0" y="297.50" class="lb">(i)</text>
<text x="440.02" y="280.40" class="tt" text-anchor="middle"><tspan font-style="italic">z</tspan><tspan dx="0.9" dy="1.1" font-size="12.4">=</tspan><tspan dx="0.6" dy="-1.1">7200</tspan></text>
<text x="439.62" y="402.6" class="ax" text-anchor="middle"><tspan font-style="italic">x</tspan><tspan font-style="italic" font-size="8" dy="1.8">o</tspan><tspan dy="-1.8"> (Km)</tspan></text>
<linearGradient id="cb" x1="0" y1="0" x2="0" y2="1"><stop offset="0.00000" stop-color="#870000"/><stop offset="0.01562" stop-color="#870000"/><stop offset="0.01562" stop-color="#970000"/><stop offset="0.03125" stop-color="#970000"/><stop offset="0.03125" stop-color="#a70000"/><stop offset="0.04688" stop-color="#a70000"/><stop offset="0.04688" stop-color="#b70000"/><stop offset="0.06250" stop-color="#b70000"/><stop offset="0.06250" stop-color="#c70000"/><stop offset="0.07812" stop-color="#c70000"/><stop offset="0.07812" stop-color="#d70000"/><stop offset="0.09375" stop-color="#d70000"/><stop offset="0.09375" stop-color="#e70000"/><stop offset="0.10938" stop-color="#e70000"/><stop offset="0.10938" stop-color="#f70000"/><stop offset="0.12500" stop-color="#f70000"/><stop offset="0.12500" stop-color="#ff0800"/><stop offset="0.14062" stop-color="#ff0800"/><stop offset="0.14062" stop-color="#ff1800"/><stop offset="0.15625" stop-color="#ff1800"/><stop offset="0.15625" stop-color="#ff2800"/><stop offset="0.17188" stop-color="#ff2800"/><stop offset="0.17188" stop-color="#ff3800"/><stop offset="0.18750" stop-color="#ff3800"/><stop offset="0.18750" stop-color="#ff4800"/><stop offset="0.20312" stop-color="#ff4800"/><stop offset="0.20312" stop-color="#ff5800"/><stop offset="0.21875" stop-color="#ff5800"/><stop offset="0.21875" stop-color="#ff6800"/><stop offset="0.23438" stop-color="#ff6800"/><stop offset="0.23438" stop-color="#ff7800"/><stop offset="0.25000" stop-color="#ff7800"/><stop offset="0.25000" stop-color="#ff8700"/><stop offset="0.26562" stop-color="#ff8700"/><stop offset="0.26562" stop-color="#ff9700"/><stop offset="0.28125" stop-color="#ff9700"/><stop offset="0.28125" stop-color="#ffa700"/><stop offset="0.29688" stop-color="#ffa700"/><stop offset="0.29688" stop-color="#ffb700"/><stop offset="0.31250" stop-color="#ffb700"/><stop offset="0.31250" stop-color="#ffc700"/><stop offset="0.32812" stop-color="#ffc700"/><stop offset="0.32812" stop-color="#ffd700"/><stop offset="0.34375" stop-color="#ffd700"/><stop offset="0.34375" stop-color="#ffe700"/><stop offset="0.35938" stop-color="#ffe700"/><stop offset="0.35938" stop-color="#fff700"/><stop offset="0.37500" stop-color="#fff700"/><stop offset="0.37500" stop-color="#f7ff08"/><stop offset="0.39062" stop-color="#f7ff08"/><stop offset="0.39062" stop-color="#e7ff18"/><stop offset="0.40625" stop-color="#e7ff18"/><stop offset="0.40625" stop-color="#d7ff28"/><stop offset="0.42188" stop-color="#d7ff28"/><stop offset="0.42188" stop-color="#c7ff38"/><stop offset="0.43750" stop-color="#c7ff38"/><stop offset="0.43750" stop-color="#b7ff48"/><stop offset="0.45312" stop-color="#b7ff48"/><stop offset="0.45312" stop-color="#a7ff58"/><stop offset="0.46875" stop-color="#a7ff58"/><stop offset="0.46875" stop-color="#97ff68"/><stop offset="0.48438" stop-color="#97ff68"/><stop offset="0.48438" stop-color="#87ff78"/><stop offset="0.50000" stop-color="#87ff78"/><stop offset="0.50000" stop-color="#78ff87"/><stop offset="0.51562" stop-color="#78ff87"/><stop offset="0.51562" stop-color="#68ff97"/><stop offset="0.53125" stop-color="#68ff97"/><stop offset="0.53125" stop-color="#58ffa7"/><stop offset="0.54688" stop-color="#58ffa7"/><stop offset="0.54688" stop-color="#48ffb7"/><stop offset="0.56250" stop-color="#48ffb7"/><stop offset="0.56250" stop-color="#38ffc7"/><stop offset="0.57812" stop-color="#38ffc7"/><stop offset="0.57812" stop-color="#28ffd7"/><stop offset="0.59375" stop-color="#28ffd7"/><stop offset="0.59375" stop-color="#18ffe7"/><stop offset="0.60938" stop-color="#18ffe7"/><stop offset="0.60938" stop-color="#08fff7"/><stop offset="0.62500" stop-color="#08fff7"/><stop offset="0.62500" stop-color="#00f7ff"/><stop offset="0.64062" stop-color="#00f7ff"/><stop offset="0.64062" stop-color="#00e7ff"/><stop offset="0.65625" stop-color="#00e7ff"/><stop offset="0.65625" stop-color="#00d7ff"/><stop offset="0.67188" stop-color="#00d7ff"/><stop offset="0.67188" stop-color="#00c7ff"/><stop offset="0.68750" stop-color="#00c7ff"/><stop offset="0.68750" stop-color="#00b7ff"/><stop offset="0.70312" stop-color="#00b7ff"/><stop offset="0.70312" stop-color="#00a7ff"/><stop offset="0.71875" stop-color="#00a7ff"/><stop offset="0.71875" stop-color="#0097ff"/><stop offset="0.73438" stop-color="#0097ff"/><stop offset="0.73438" stop-color="#0087ff"/><stop offset="0.75000" stop-color="#0087ff"/><stop offset="0.75000" stop-color="#0078ff"/><stop offset="0.76562" stop-color="#0078ff"/><stop offset="0.76562" stop-color="#0068ff"/><stop offset="0.78125" stop-color="#0068ff"/><stop offset="0.78125" stop-color="#0058ff"/><stop offset="0.79688" stop-color="#0058ff"/><stop offset="0.79688" stop-color="#0048ff"/><stop offset="0.81250" stop-color="#0048ff"/><stop offset="0.81250" stop-color="#0038ff"/><stop offset="0.82812" stop-color="#0038ff"/><stop offset="0.82812" stop-color="#0028ff"/><stop offset="0.84375" stop-color="#0028ff"/><stop offset="0.84375" stop-color="#0018ff"/><stop offset="0.85938" stop-color="#0018ff"/><stop offset="0.85938" stop-color="#0008ff"/><stop offset="0.87500" stop-color="#0008ff"/><stop offset="0.87500" stop-color="#0000f7"/><stop offset="0.89062" stop-color="#0000f7"/><stop offset="0.89062" stop-color="#0000e7"/><stop offset="0.90625" stop-color="#0000e7"/><stop offset="0.90625" stop-color="#0000d7"/><stop offset="0.92188" stop-color="#0000d7"/><stop offset="0.92188" stop-color="#0000c7"/><stop offset="0.93750" stop-color="#0000c7"/><stop offset="0.93750" stop-color="#0000b7"/><stop offset="0.95312" stop-color="#0000b7"/><stop offset="0.95312" stop-color="#0000a7"/><stop offset="0.96875" stop-color="#0000a7"/><stop offset="0.96875" stop-color="#000097"/><stop offset="0.98438" stop-color="#000097"/><stop offset="0.98438" stop-color="#000087"/><stop offset="1.00000" stop-color="#000087"/></linearGradient>
<rect x="514.4" y="19.3" width="14.80" height="360.30" fill="url(#cb)"/>
<rect x="514.4" y="19.3" width="14.80" height="360.30" fill="none" stroke="#888" stroke-width="0.4"/>
<line x1="527.7" y1="379.60" x2="529.2" y2="379.60" stroke="#555" stroke-width="0.6"/>
<text x="532.40" y="383.50" class="tk">0</text>
<line x1="527.7" y1="316.45" x2="529.2" y2="316.45" stroke="#555" stroke-width="0.6"/>
<text x="532.40" y="320.35" class="tk">0.5</text>
<line x1="527.7" y1="253.30" x2="529.2" y2="253.30" stroke="#555" stroke-width="0.6"/>
<text x="532.40" y="257.20" class="tk">1</text>
<line x1="527.7" y1="190.15" x2="529.2" y2="190.15" stroke="#555" stroke-width="0.6"/>
<text x="532.40" y="194.05" class="tk">1.5</text>
<line x1="527.7" y1="127.00" x2="529.2" y2="127.00" stroke="#555" stroke-width="0.6"/>
<text x="532.40" y="130.90" class="tk">2</text>
<line x1="527.7" y1="63.85" x2="529.2" y2="63.85" stroke="#555" stroke-width="0.6"/>
<text x="532.40" y="67.75" class="tk">2.5</text>
<text x="521.6" y="12.5" class="tt" style="stroke:none;font-size:9.8px" font-style="italic" text-anchor="middle">N</text>
</svg>
</body></html>
